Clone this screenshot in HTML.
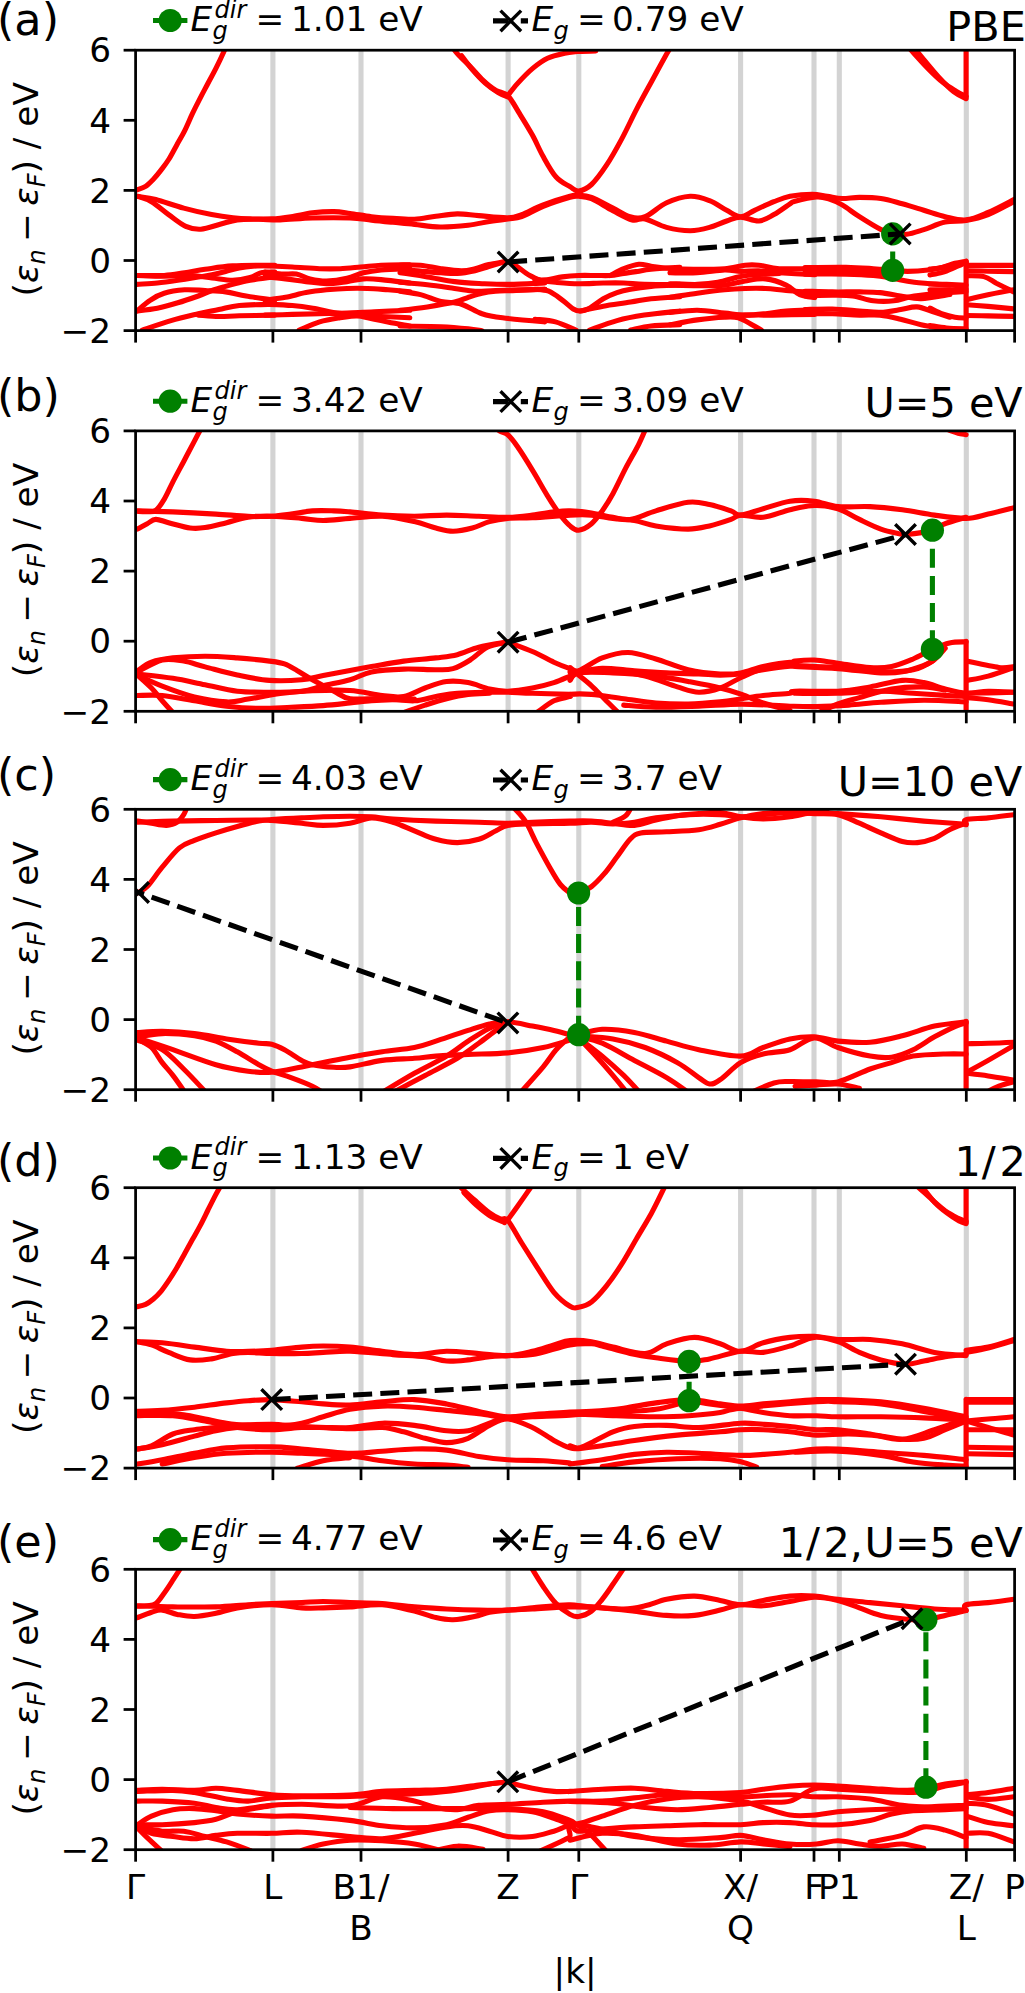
<!DOCTYPE html>
<html><head><meta charset="utf-8"><title>Band structures</title><style>html,body{margin:0;padding:0;background:#fff;overflow:hidden}svg{display:block}</style></head><body>
<svg width="1025" height="1993" viewBox="0 0 1025 1993">
<rect width="1025" height="1993" fill="#fff"/>
<clipPath id="c0"><rect x="135.6" y="50.2" width="879.0" height="280.4"/></clipPath>
<line x1="272.9" y1="50.2" x2="272.9" y2="330.6" stroke="#d3d3d3" stroke-width="5.1"/>
<line x1="361.0" y1="50.2" x2="361.0" y2="330.6" stroke="#d3d3d3" stroke-width="5.1"/>
<line x1="508.1" y1="50.2" x2="508.1" y2="330.6" stroke="#d3d3d3" stroke-width="5.1"/>
<line x1="578.8" y1="50.2" x2="578.8" y2="330.6" stroke="#d3d3d3" stroke-width="5.1"/>
<line x1="740.6" y1="50.2" x2="740.6" y2="330.6" stroke="#d3d3d3" stroke-width="5.1"/>
<line x1="814.0" y1="50.2" x2="814.0" y2="330.6" stroke="#d3d3d3" stroke-width="5.1"/>
<line x1="839.3" y1="50.2" x2="839.3" y2="330.6" stroke="#d3d3d3" stroke-width="5.1"/>
<line x1="966.3" y1="50.2" x2="966.3" y2="330.6" stroke="#d3d3d3" stroke-width="5.1"/>
<g clip-path="url(#c0)" fill="none" stroke="#ff0000" stroke-width="5.1" stroke-linejoin="round" stroke-linecap="round">
<path d="M136.2,190.2 C137.8,189.5 142.7,188.1 145.6,186.3 C148.5,184.5 150.8,181.9 153.4,179.2 C156.0,176.5 158.6,173.3 161.2,169.9 C163.8,166.5 166.4,163.2 169.0,159.0 C171.6,154.8 174.2,149.6 176.8,144.9 C179.4,140.2 182.0,136.1 184.6,130.9 C187.2,125.7 189.8,119.2 192.4,113.7 C195.0,108.2 197.6,103.2 200.2,98.1 C202.8,93.0 205.4,88.2 208.0,83.2 C210.6,78.2 213.3,73.6 215.9,68.4 C218.5,63.2 222.1,55.6 223.7,52.0 C225.3,48.4 225.2,47.8 225.5,47.0"/>
<path d="M450.9,45.0 C452.0,46.4 454.1,50.0 457.3,53.6 C460.5,57.2 465.9,62.0 470.2,66.5 C474.5,70.9 478.8,76.4 483.1,80.4 C487.4,84.4 491.8,88.0 496.0,90.5 C500.1,93.0 503.8,91.8 507.8,95.7 C511.7,99.5 515.5,107.1 519.6,113.7 C523.7,120.3 528.5,128.0 532.4,135.1 C536.4,142.3 539.2,149.6 543.2,156.6 C547.1,163.6 551.6,172.0 556.1,177.0 C560.5,182.0 566.2,184.3 570.0,186.7 C573.8,189.0 575.0,191.3 578.6,191.0 C582.2,190.6 586.8,188.8 591.5,184.5 C596.1,180.2 601.5,172.7 606.5,165.2 C611.5,157.7 616.5,148.7 621.5,139.4 C626.5,130.1 631.5,119.1 636.5,109.4 C641.5,99.7 646.9,90.1 651.6,81.5 C656.2,72.9 661.0,64.0 664.4,57.9 C667.8,51.8 670.7,47.1 672.0,45.0"/>
<path d="M507.8,95.7 C509.4,93.7 513.3,88.1 517.4,83.6 C521.5,79.1 527.4,72.8 532.4,68.6 C537.5,64.4 542.1,60.9 547.5,58.3 C552.8,55.7 559.6,54.3 564.6,53.2 C569.6,52.0 575.2,51.7 577.5,51.4 C579.8,51.2 575.5,51.5 578.6,51.4 C581.6,51.4 592.9,51.1 595.8,51.0"/>
<path d="M906.6,45.0 C908.0,46.6 911.6,50.7 915.2,54.7 C918.8,58.6 923.4,64.0 928.1,68.6 C932.7,73.3 938.4,78.8 943.1,82.6 C947.8,86.3 952.2,88.8 956.0,91.1 C959.8,93.5 964.4,95.6 966.1,96.5"/>
<path d="M966.1,96.5 L966.1,45.0"/>
<path d="M137.5,196.3 C140.6,196.9 148.1,197.6 155.8,199.5 C163.4,201.5 174.4,205.6 183.7,208.1 C193.0,210.6 203.3,213.0 211.6,214.6 C219.8,216.2 226.6,217.1 233.0,217.8 C239.5,218.5 243.8,218.7 250.2,218.9 C256.6,219.0 264.9,219.2 271.7,218.9 C278.5,218.5 284.2,217.7 291.0,216.7 C297.8,215.7 305.3,213.7 312.4,212.8 C319.6,212.0 327.6,211.5 333.9,211.6 C340.2,211.7 343.7,212.6 350.0,213.5 C356.3,214.3 364.3,215.9 371.5,216.7 C378.6,217.5 385.8,218.0 392.9,218.4 C400.1,218.9 407.2,219.6 414.4,219.3 C421.5,218.9 428.7,217.2 435.9,216.3 C443.0,215.4 450.2,214.0 457.3,213.9 C464.5,213.8 470.4,215.0 478.8,215.6 C487.2,216.3 500.6,218.0 507.8,217.8 C514.9,217.6 515.8,216.7 521.7,214.6 C527.6,212.4 535.1,207.9 543.2,204.9 C551.2,201.9 564.1,197.9 570.0,196.3 C575.9,194.7 575.0,195.1 578.6,195.2 C582.2,195.4 585.7,195.2 591.5,197.4 C597.2,199.5 606.5,204.9 612.9,208.1 C619.4,211.3 624.7,215.3 630.1,216.7 C635.5,218.1 639.0,219.0 645.1,216.7 C651.2,214.4 659.1,206.2 666.6,202.8 C674.1,199.4 683.0,196.7 690.2,196.3 C697.4,196.0 703.4,198.3 709.5,200.6 C715.6,202.9 721.5,207.6 726.7,210.3 C731.9,213.0 736.0,216.7 740.6,216.7 C745.3,216.7 749.0,212.8 754.6,210.3 C760.1,207.8 768.0,204.0 773.9,201.7 C779.8,199.4 783.6,197.6 790.0,196.3 C796.4,195.1 806.0,194.2 812.2,194.2 C818.4,194.2 822.2,195.6 827.2,196.3 C832.2,197.0 836.9,198.3 842.2,198.5 C847.6,198.6 853.0,197.4 859.4,197.4 C865.8,197.4 873.7,197.4 880.9,198.5 C888.0,199.5 895.2,201.9 902.3,203.8 C909.5,205.8 916.6,208.1 923.8,210.3 C930.9,212.4 938.2,215.1 945.2,216.7 C952.3,218.3 958.9,220.6 966.1,219.9 C973.2,219.2 980.2,215.8 988.2,212.4 C996.2,209.0 1009.6,201.7 1013.9,199.5"/>
<path d="M137.5,196.3 C139.8,197.2 146.3,198.6 151.5,201.7 C156.7,204.7 162.9,210.5 168.6,214.6 C174.4,218.7 180.4,223.9 185.8,226.4 C191.2,228.8 195.1,229.5 200.8,229.2 C206.6,228.8 214.1,225.8 220.1,224.2 C226.2,222.7 230.9,220.8 237.3,219.9 C243.8,219.1 251.6,219.3 258.8,219.3 C265.9,219.3 271.3,220.1 280.2,219.9 C289.2,219.7 300.8,218.3 312.4,218.0 C324.1,217.7 340.2,217.6 350.0,218.0 C359.8,218.4 364.3,219.4 371.5,220.1 C378.6,220.9 385.8,221.6 392.9,222.3 C400.1,223.0 406.5,223.7 414.4,224.4 C422.3,225.2 431.2,226.9 440.1,227.0 C449.1,227.2 459.8,226.2 468.1,225.3 C476.3,224.4 482.9,222.5 489.5,221.4 C496.1,220.4 502.4,219.6 507.8,218.9 C513.1,218.1 515.8,218.8 521.7,216.7 C527.6,214.6 535.1,209.6 543.2,206.4 C551.2,203.2 564.1,199.1 570.0,197.4 C575.9,195.7 575.0,196.1 578.6,196.3 C582.2,196.5 585.7,196.3 591.5,198.7 C597.2,201.1 606.1,207.2 612.9,210.7 C619.7,214.2 626.9,218.6 632.2,219.9 C637.6,221.3 639.4,217.6 645.1,218.9 C650.8,220.1 659.1,225.5 666.6,227.4 C674.1,229.4 683.0,230.7 690.2,230.7 C697.4,230.7 703.4,229.1 709.5,227.4 C715.6,225.8 721.5,222.7 726.7,221.0 C731.9,219.3 735.3,217.1 740.6,217.1 C746.0,217.1 753.3,221.4 758.9,221.0 C764.4,220.6 768.7,217.4 773.9,214.6 C779.1,211.7 786.5,206.1 790.0,203.8 C793.5,201.6 790.6,202.4 795.0,201.3 C799.4,200.1 810.7,197.3 816.5,197.0 C822.2,196.6 825.0,197.8 829.3,199.1 C833.6,200.4 837.2,202.0 842.2,204.9 C847.2,207.8 853.0,212.6 859.4,216.7 C865.8,220.8 875.3,226.7 880.9,229.6 C886.4,232.5 888.4,233.1 892.7,233.9 C897.0,234.7 901.4,235.0 906.6,234.3 C911.8,233.6 917.3,231.6 923.8,229.6 C930.2,227.5 938.2,223.6 945.2,222.1 C952.3,220.6 958.9,221.8 966.1,220.6 C973.2,219.3 980.2,217.7 988.2,214.6 C996.2,211.4 1009.6,203.8 1013.9,201.7"/>
<path d="M136.8,275.5 C141.4,275.5 156.2,275.9 164.2,275.5 C172.1,275.0 177.8,273.8 184.6,272.8 C191.5,271.7 197.2,270.5 205.1,269.3 C213.1,268.2 221.6,266.6 232.5,265.9 C243.3,265.2 263.0,265.3 270.0,265.2 C277.1,265.2 274.0,265.4 274.8,265.4"/>
<path d="M136.8,275.5 C141.4,275.6 155.0,276.2 164.2,276.2 C173.3,276.2 183.5,275.2 191.5,275.5 C199.4,275.8 205.1,277.2 212.0,278.0 C218.8,278.7 226.1,280.3 232.5,280.3 C238.8,280.2 245.4,278.8 250.2,277.5 C255.0,276.3 257.0,273.7 261.1,272.8 C265.2,271.8 272.5,272.2 274.8,272.1"/>
<path d="M136.8,284.4 C140.2,284.1 150.5,283.7 157.3,283.0 C164.2,282.3 171.0,281.3 177.8,280.3 C184.6,279.3 192.6,278.0 198.3,277.1 C204.0,276.2 207.4,275.8 212.0,274.8 C216.5,273.9 221.1,272.5 225.6,271.4 C230.2,270.3 234.7,268.8 239.3,268.0 C243.8,267.1 247.8,266.6 253.0,266.2 C258.1,265.8 267.2,265.7 270.0,265.7"/>
<path d="M136.8,311.0 C139.1,309.2 145.9,303.0 150.5,300.1 C155.0,297.1 158.5,295.0 164.2,293.3 C169.8,291.5 177.8,290.3 184.6,289.8 C191.5,289.4 198.3,290.2 205.1,290.5 C212.0,290.9 218.8,291.0 225.6,291.9 C232.5,292.8 237.9,294.6 246.1,296.0 C254.3,297.4 270.0,299.6 274.8,300.4"/>
<path d="M136.8,311.0 C140.2,310.6 150.5,309.6 157.3,308.3 C164.2,306.9 171.0,304.9 177.8,302.8 C184.6,300.8 192.6,298.0 198.3,296.0 C204.0,293.9 207.4,292.1 212.0,290.5 C216.5,288.9 219.9,288.0 225.6,286.4 C231.3,284.8 237.9,282.6 246.1,281.0 C254.3,279.4 270.0,277.5 274.8,276.9"/>
<path d="M142.3,330.1 C147.1,328.5 161.6,323.3 171.0,320.6 C180.3,317.8 190.3,315.6 198.3,313.7 C206.3,311.9 212.0,311.0 218.8,309.6 C225.6,308.3 230.0,306.5 239.3,305.5 C248.6,304.6 268.9,304.4 274.8,304.2"/>
<path d="M198.3,315.1 C201.7,315.3 212.0,316.4 218.8,316.5 C225.6,316.6 230.0,316.0 239.3,315.8 C248.6,315.6 268.9,315.2 274.8,315.1"/>
<path d="M265.0,265.7 C269.6,265.9 283.2,266.5 292.3,267.0 C301.4,267.5 311.7,268.4 319.6,268.7 C327.6,268.9 333.3,268.9 340.1,268.7 C347.0,268.4 353.8,267.6 360.6,267.0 C367.5,266.5 372.9,265.6 381.1,265.2 C389.3,264.9 405.0,264.9 409.8,264.8"/>
<path d="M265.0,272.1 C267.7,272.4 276.2,273.8 281.4,274.1 C286.6,274.5 291.6,273.3 296.4,274.1 C301.2,274.9 305.1,277.8 310.1,278.9 C315.1,280.0 320.3,281.1 326.5,281.0 C332.6,280.8 340.8,279.6 347.0,278.2 C353.1,276.9 357.7,274.1 363.4,272.8 C369.1,271.4 373.4,270.7 381.1,270.0 C388.9,269.3 405.0,268.9 409.8,268.7"/>
<path d="M265.0,276.9 C268.4,277.2 278.7,278.1 285.5,278.9 C292.3,279.7 299.2,280.8 306.0,281.6 C312.8,282.4 319.6,283.7 326.5,283.7 C333.3,283.7 340.8,282.4 347.0,281.6 C353.1,280.8 357.7,279.2 363.4,278.9 C369.1,278.6 373.4,278.9 381.1,279.6 C388.9,280.3 405.0,282.4 409.8,283.0"/>
<path d="M265.0,300.1 C268.4,299.6 278.7,298.6 285.5,297.3 C292.3,296.1 299.2,293.8 306.0,292.6 C312.8,291.3 319.6,290.5 326.5,289.8 C333.3,289.2 340.1,288.7 347.0,288.5 C353.8,288.2 360.6,288.2 367.5,288.5 C374.3,288.7 380.9,289.3 388.0,289.8 C395.0,290.4 406.2,291.5 409.8,291.9"/>
<path d="M265.0,304.2 C269.6,304.4 284.4,304.9 292.3,305.5 C300.3,306.2 306.0,307.1 312.8,308.3 C319.6,309.4 326.5,311.2 333.3,312.4 C340.1,313.5 347.0,314.0 353.8,315.1 C360.6,316.2 367.5,317.8 374.3,319.2 C381.1,320.6 388.9,322.2 394.8,323.3 C400.7,324.4 407.3,325.6 409.8,326.0"/>
<path d="M265.0,315.1 C269.6,315.0 283.2,314.7 292.3,314.4 C301.4,314.2 310.5,314.0 319.6,313.7 C328.8,313.5 337.9,313.4 347.0,313.1 C356.1,312.7 363.8,312.1 374.3,311.7 C384.8,311.2 403.9,310.6 409.8,310.3"/>
<path d="M299.2,330.1 C302.6,328.8 312.8,324.0 319.6,321.9 C326.5,319.9 333.3,318.9 340.1,317.8 C347.0,316.8 353.8,316.0 360.6,315.8 C367.5,315.6 372.9,316.1 381.1,316.5 C389.3,316.8 405.0,317.6 409.8,317.8"/>
<path d="M400.0,265.2 C403.4,265.2 413.7,264.7 420.5,265.2 C427.3,265.8 434.2,267.8 441.0,268.7 C447.8,269.6 455.8,270.7 461.5,270.7 C467.2,270.7 470.6,269.7 475.1,268.7 C479.7,267.6 484.0,265.7 488.8,264.6 C493.6,263.4 501.3,262.3 503.8,261.8"/>
<path d="M400.0,269.3 C403.4,269.6 413.7,270.6 420.5,271.1 C427.3,271.7 434.8,272.4 441.0,272.8 C447.1,273.1 451.7,273.8 457.4,273.4 C463.1,273.1 469.9,271.8 475.1,270.7 C480.4,269.6 484.0,268.0 488.8,266.6 C493.6,265.2 501.3,262.9 503.8,262.1"/>
<path d="M400.0,272.8 C404.6,273.4 418.2,275.4 427.3,276.9 C436.4,278.3 445.5,280.5 454.6,281.6 C463.8,282.8 472.9,283.2 482.0,283.7 C491.1,284.1 498.8,284.5 509.3,284.4 C519.8,284.3 538.9,283.2 544.8,283.0"/>
<path d="M400.0,282.3 C404.6,282.7 418.2,283.8 427.3,284.8 C436.4,285.8 446.7,287.4 454.6,288.5 C462.6,289.5 468.3,290.9 475.1,291.2 C482.0,291.5 484.0,290.9 495.6,290.5 C507.2,290.2 536.6,289.4 544.8,289.2"/>
<path d="M400.0,291.2 C403.4,291.8 413.7,292.9 420.5,294.6 C427.3,296.3 434.2,299.9 441.0,301.4 C447.8,303.0 454.6,302.1 461.5,304.2 C468.3,306.2 475.1,311.5 482.0,313.7 C488.8,316.0 492.0,316.5 502.5,317.8 C512.9,319.2 537.8,321.3 544.8,321.9"/>
<path d="M400.0,310.3 C404.6,309.8 418.2,308.3 427.3,306.9 C436.4,305.5 447.8,303.7 454.6,302.1 C461.5,300.5 463.8,298.8 468.3,297.3 C472.9,295.9 477.4,294.3 482.0,293.3 C486.5,292.2 489.9,291.7 495.6,291.2 C501.3,290.7 507.9,290.9 516.1,290.5 C524.3,290.2 540.0,289.4 544.8,289.2"/>
<path d="M400.0,326.0 C406.8,326.2 429.6,326.3 441.0,326.7 C452.4,327.2 461.5,328.1 468.3,328.8 C475.1,329.5 479.7,330.5 482.0,330.8"/>
<path d="M507.9,261.8 C509.3,262.5 512.5,263.7 516.1,265.9 C519.8,268.2 525.0,272.8 529.8,275.5 C534.6,278.2 542.3,281.2 544.8,282.3"/>
<path d="M535.0,278.9 C536.1,279.2 538.4,280.1 541.8,280.7 C545.2,281.3 549.3,281.8 555.5,282.3 C561.6,282.8 570.7,283.6 578.7,283.7 C586.7,283.8 595.8,283.1 603.3,283.0 C610.8,282.9 617.0,282.8 623.8,283.0 C630.6,283.2 635.0,284.1 644.3,284.4 C653.6,284.6 673.9,284.4 679.8,284.4"/>
<path d="M535.0,280.3 C537.3,280.2 544.1,280.2 548.7,279.6 C553.2,279.0 557.3,277.5 562.3,276.9 C567.3,276.2 573.0,275.7 578.7,275.5 C584.4,275.3 591.2,275.5 596.5,275.5 C601.7,275.5 605.6,275.8 610.1,275.5 C614.7,275.2 619.2,274.1 623.8,273.4 C628.4,272.8 632.9,272.1 637.5,271.4 C642.0,270.7 644.1,270.0 651.1,269.3 C658.2,268.7 675.0,267.6 679.8,267.3"/>
<path d="M535.0,289.2 C537.3,289.5 544.1,289.4 548.7,291.2 C553.2,293.0 558.2,297.1 562.3,300.1 C566.4,303.0 570.3,307.1 573.3,309.0 C576.2,310.8 577.3,311.1 580.1,311.0 C582.8,310.9 585.8,310.3 589.6,308.3 C593.5,306.2 598.8,301.3 603.3,298.7 C607.9,296.1 612.4,294.2 617.0,292.6 C621.5,291.0 624.9,290.2 630.6,289.2 C636.3,288.1 642.9,287.1 651.1,286.4 C659.3,285.7 675.0,285.3 679.8,285.1"/>
<path d="M580.1,311.0 C584.0,310.2 594.9,307.7 603.3,306.2 C611.7,304.7 622.7,303.4 630.6,302.1 C638.6,300.9 642.9,299.6 651.1,298.7 C659.3,297.8 675.0,297.0 679.8,296.7"/>
<path d="M535.0,319.2 C538.4,319.7 548.7,320.1 555.5,321.9 C562.3,323.8 572.6,328.8 576.0,330.1"/>
<path d="M589.6,330.1 C594.2,328.5 607.9,323.1 617.0,320.6 C626.1,318.1 633.8,316.7 644.3,315.1 C654.8,313.5 673.9,311.7 679.8,311.0"/>
<path d="M630.6,330.1 C634.0,329.5 642.9,326.9 651.1,326.0 C659.3,325.1 675.0,324.9 679.8,324.7"/>
<path d="M610.1,275.5 C612.4,274.4 619.0,270.5 623.8,268.7 C628.6,266.8 634.3,264.7 638.8,264.3 C643.4,263.9 646.8,265.6 651.1,266.2 C655.4,266.8 660.0,267.6 664.8,268.0 C669.6,268.4 677.3,268.5 679.8,268.7"/>
<path d="M670.0,268.7 C674.6,268.8 688.2,269.3 697.3,269.3 C706.4,269.3 716.7,269.3 724.6,268.7 C732.6,268.0 739.4,265.8 745.1,265.2 C750.8,264.7 753.1,264.7 758.8,265.2 C764.5,265.8 770.0,268.1 779.3,268.7 C788.6,269.2 808.9,268.7 814.8,268.7"/>
<path d="M670.0,272.8 C674.6,272.8 688.2,273.2 697.3,272.8 C706.4,272.3 717.4,270.3 724.6,270.0 C731.9,269.8 735.3,271.3 741.0,271.4 C746.7,271.5 752.4,270.5 758.8,270.7 C765.2,270.9 770.0,272.1 779.3,272.8 C788.6,273.4 808.9,274.5 814.8,274.8"/>
<path d="M670.0,283.7 C674.6,283.8 689.4,284.6 697.3,284.4 C705.3,284.1 711.0,283.6 717.8,282.3 C724.6,281.1 732.6,278.1 738.3,276.9 C744.0,275.6 747.4,275.3 752.0,274.8 C756.5,274.4 761.1,274.4 765.6,274.1 C770.2,273.9 777.0,273.6 779.3,273.4"/>
<path d="M670.0,285.1 C674.6,285.2 688.2,285.7 697.3,285.7 C706.4,285.7 716.7,285.9 724.6,285.1 C732.6,284.3 738.3,282.0 745.1,281.0 C752.0,279.9 758.8,278.2 765.6,278.9 C772.5,279.6 780.4,282.4 786.1,285.1 C791.8,287.7 795.0,292.5 799.8,294.6 C804.6,296.7 812.3,297.1 814.8,297.6"/>
<path d="M670.0,297.3 C674.6,296.7 688.2,294.5 697.3,293.3 C706.4,292.0 716.7,290.6 724.6,289.8 C732.6,289.0 738.3,288.7 745.1,288.5 C752.0,288.2 758.8,288.1 765.6,288.5 C772.5,288.8 777.9,289.8 786.1,290.5 C794.3,291.2 810.0,292.2 814.8,292.6"/>
<path d="M670.0,312.4 C674.6,312.0 688.2,310.2 697.3,310.3 C706.4,310.4 716.7,312.3 724.6,313.1 C732.6,313.9 738.3,315.0 745.1,315.1 C752.0,315.2 758.8,314.4 765.6,313.7 C772.5,313.1 777.9,311.6 786.1,311.0 C794.3,310.4 810.0,310.1 814.8,309.9"/>
<path d="M670.0,324.7 C674.6,323.9 688.2,321.1 697.3,319.9 C706.4,318.6 717.8,317.5 724.6,317.2 C731.5,316.8 733.8,316.6 738.3,317.8 C742.9,319.1 748.1,322.6 752.0,324.7 C755.8,326.7 759.9,329.2 761.5,330.1"/>
<path d="M724.6,316.5 C728.1,316.2 737.2,315.3 745.1,315.1 C753.1,314.9 760.8,315.2 772.5,315.1 C784.1,315.0 807.8,314.5 814.8,314.4"/>
<path d="M805.0,267.6 C811.8,267.5 834.6,267.1 846.0,267.3 C857.4,267.5 865.6,268.2 873.3,268.7 C881.0,269.1 886.7,269.6 892.4,270.0 C898.1,270.5 901.5,271.4 907.5,271.4 C913.4,271.4 920.9,271.0 928.0,270.0 C935.0,269.1 946.2,266.4 949.8,265.7"/>
<path d="M805.0,270.3 C811.8,270.4 834.6,270.5 846.0,270.7 C857.4,270.9 865.6,271.3 873.3,271.4 C881.0,271.5 889.2,271.4 892.4,271.4"/>
<path d="M805.0,274.1 C811.8,274.1 834.6,273.9 846.0,274.1 C857.4,274.4 865.6,274.8 873.3,275.5 C881.0,276.2 885.6,277.1 892.4,278.2 C899.3,279.4 904.7,281.1 914.3,282.3 C923.9,283.5 943.9,284.8 949.8,285.3"/>
<path d="M805.0,291.2 C809.6,291.3 823.2,291.8 832.3,291.9 C841.4,292.0 851.7,291.8 859.6,291.9 C867.6,292.0 873.3,291.9 880.1,292.6 C887.0,293.3 893.8,295.0 900.6,296.0 C907.5,297.0 912.9,298.9 921.1,298.7 C929.3,298.5 945.0,295.3 949.8,294.6"/>
<path d="M805.0,296.0 C809.6,295.9 824.4,295.3 832.3,295.3 C840.3,295.3 846.0,295.1 852.8,296.0 C859.6,296.9 866.5,300.0 873.3,300.8 C880.1,301.6 887.0,301.6 893.8,300.8 C900.6,300.0 905.0,297.5 914.3,296.0 C923.6,294.5 943.9,292.6 949.8,291.9"/>
<path d="M805.0,309.6 C809.6,309.5 823.2,308.7 832.3,309.0 C841.4,309.2 851.7,310.4 859.6,311.0 C867.6,311.6 873.3,312.6 880.1,312.4 C887.0,312.1 894.5,310.6 900.6,309.6 C906.8,308.7 911.3,306.5 917.0,306.9 C922.7,307.4 929.3,310.7 934.8,312.4 C940.2,314.1 947.3,316.4 949.8,317.2"/>
<path d="M805.0,313.7 C809.6,313.7 823.2,313.5 832.3,313.7 C841.4,314.0 851.7,314.9 859.6,315.1 C867.6,315.3 873.3,314.4 880.1,315.1 C887.0,315.8 893.8,317.6 900.6,319.2 C907.5,320.8 912.9,322.9 921.1,324.7 C929.3,326.5 945.0,329.2 949.8,330.1"/>
<path d="M930.0,269.1 C932.1,268.8 938.3,268.4 942.4,267.4 C946.6,266.5 950.9,264.3 954.9,263.3 C958.8,262.3 964.2,261.6 966.1,261.2"/>
<path d="M930.0,274.9 C932.1,274.5 938.3,273.7 942.4,272.4 C946.6,271.2 950.9,269.1 954.9,267.4 C958.8,265.8 964.2,263.3 966.1,262.5"/>
<path d="M930.0,284.0 C932.8,284.1 940.6,284.2 946.6,284.4 C952.6,284.6 962.8,285.1 966.1,285.3"/>
<path d="M930.0,289.8 C932.8,289.8 940.6,290.0 946.6,289.8 C952.6,289.7 962.8,289.1 966.1,289.0"/>
<path d="M930.0,294.0 C932.8,293.8 940.6,293.1 946.6,292.7 C952.6,292.3 962.8,291.7 966.1,291.5"/>
<path d="M930.0,308.1 C932.1,309.0 938.3,312.4 942.4,313.9 C946.6,315.4 950.9,316.5 954.9,317.2 C958.8,317.9 964.2,317.9 966.1,318.0"/>
<path d="M930.0,325.5 C932.8,325.9 940.6,327.4 946.6,328.0 C952.6,328.5 962.8,328.7 966.1,328.8"/>
<path d="M966.1,261.2 L966.1,331.3"/>
<path d="M966.5,265.4 L1013.7,265.4"/>
<path d="M966.5,270.8 C970.1,270.8 980.2,271.0 988.0,271.2 C995.9,271.3 1009.5,271.5 1013.7,271.6"/>
<path d="M966.5,275.7 C969.4,275.9 978.9,275.3 983.9,276.6 C988.9,277.8 991.4,280.6 996.3,283.2 C1001.3,285.7 1010.8,290.4 1013.7,291.9"/>
<path d="M966.5,299.8 C970.1,298.9 982.4,296.0 988.0,294.8 C993.7,293.6 996.2,293.1 1000.5,292.3 C1004.8,291.5 1011.5,290.2 1013.7,289.8"/>
<path d="M966.5,304.8 C970.1,305.0 980.2,305.7 988.0,306.4 C995.9,307.1 1009.5,308.5 1013.7,308.9"/>
<path d="M966.5,315.5 C970.1,315.6 980.2,315.8 988.0,315.9 C995.9,316.1 1009.5,316.3 1013.7,316.4"/>
<path d="M461.6,55.7 C463.4,58.1 468.4,65.1 472.3,69.7 C476.3,74.3 480.9,79.4 485.2,83.2 C489.5,87.0 494.3,90.4 498.1,92.6 C501.9,94.9 506.1,96.2 507.8,96.9"/>
<path d="M912.0,45.0 C913.9,47.4 919.3,54.2 923.8,59.6 C928.3,65.0 933.8,71.8 938.8,77.2 C943.8,82.6 949.3,88.2 953.8,91.8 C958.4,95.4 964.0,97.5 966.1,98.7"/>
</g>
<g clip-path="url(#c0)">
<line x1="892.7" y1="270.4" x2="892.7" y2="233.9" stroke="#008000" stroke-width="5.1" stroke-dasharray="19,8.2"/>
<circle cx="892.7" cy="233.9" r="11.6" fill="#008000"/>
<circle cx="892.7" cy="270.4" r="11.6" fill="#008000"/>
<line x1="508.1" y1="262.0" x2="900.2" y2="233.9" stroke="#000" stroke-width="5.1" stroke-dasharray="19,8.2" stroke-dashoffset="0.0"/>
<path d="M497.8,251.7 L518.4,272.3 M497.8,272.3 L518.4,251.7" stroke="#000" stroke-width="3.4"/>
<path d="M889.9,223.6 L910.5,244.2 M889.9,244.2 L910.5,223.6" stroke="#000" stroke-width="3.4"/>
</g>
<rect x="135.6" y="50.2" width="879.0" height="280.4" fill="none" stroke="#000" stroke-width="2.75"/>
<line x1="123.6" y1="50.2" x2="135.6" y2="50.2" stroke="#000" stroke-width="2.75"/>
<text x="111" y="62.4" font-size="34.3" text-anchor="end" font-family="'DejaVu Sans','Liberation Sans',sans-serif">6</text>
<line x1="123.6" y1="120.3" x2="135.6" y2="120.3" stroke="#000" stroke-width="2.75"/>
<text x="111" y="132.5" font-size="34.3" text-anchor="end" font-family="'DejaVu Sans','Liberation Sans',sans-serif">4</text>
<line x1="123.6" y1="190.4" x2="135.6" y2="190.4" stroke="#000" stroke-width="2.75"/>
<text x="111" y="202.6" font-size="34.3" text-anchor="end" font-family="'DejaVu Sans','Liberation Sans',sans-serif">2</text>
<line x1="123.6" y1="260.5" x2="135.6" y2="260.5" stroke="#000" stroke-width="2.75"/>
<text x="111" y="272.7" font-size="34.3" text-anchor="end" font-family="'DejaVu Sans','Liberation Sans',sans-serif">0</text>
<line x1="123.6" y1="330.6" x2="135.6" y2="330.6" stroke="#000" stroke-width="2.75"/>
<text x="111" y="342.8" font-size="34.3" text-anchor="end" font-family="'DejaVu Sans','Liberation Sans',sans-serif">−2</text>
<line x1="135.6" y1="330.6" x2="135.6" y2="342.6" stroke="#000" stroke-width="2.75"/>
<line x1="272.9" y1="330.6" x2="272.9" y2="342.6" stroke="#000" stroke-width="2.75"/>
<line x1="361.0" y1="330.6" x2="361.0" y2="342.6" stroke="#000" stroke-width="2.75"/>
<line x1="508.1" y1="330.6" x2="508.1" y2="342.6" stroke="#000" stroke-width="2.75"/>
<line x1="578.8" y1="330.6" x2="578.8" y2="342.6" stroke="#000" stroke-width="2.75"/>
<line x1="740.6" y1="330.6" x2="740.6" y2="342.6" stroke="#000" stroke-width="2.75"/>
<line x1="814.0" y1="330.6" x2="814.0" y2="342.6" stroke="#000" stroke-width="2.75"/>
<line x1="839.3" y1="330.6" x2="839.3" y2="342.6" stroke="#000" stroke-width="2.75"/>
<line x1="966.3" y1="330.6" x2="966.3" y2="342.6" stroke="#000" stroke-width="2.75"/>
<line x1="1014.6" y1="330.6" x2="1014.6" y2="342.6" stroke="#000" stroke-width="2.75"/>
<text x="-3.0" y="35.2" font-size="44.5" font-family="'DejaVu Sans','Liberation Sans',sans-serif">(a)</text>
<text x="1025.8" y="40.9" font-size="41.4" text-anchor="end" font-family="'DejaVu Sans','Liberation Sans',sans-serif">PBE</text>
<line x1="153" y1="20.5" x2="187.4" y2="20.5" stroke="#008000" stroke-width="5.1"/>
<circle cx="170.2" cy="20.5" r="11.6" fill="#008000"/>
<text y="31.3" font-size="34.3" font-family="'DejaVu Sans','Liberation Sans',sans-serif"><tspan x="190.5" font-style="italic">E</tspan></text>
<text x="214.5" y="17.9" font-size="24" font-style="italic" font-family="'DejaVu Sans','Liberation Sans',sans-serif">dir</text>
<text x="212.5" y="38.8" font-size="24" font-style="italic" font-family="'DejaVu Sans','Liberation Sans',sans-serif">g</text>
<text x="255.5" y="31.3" font-size="34.3" font-family="'DejaVu Sans','Liberation Sans',sans-serif">=</text>
<text x="291" y="31.3" font-size="34.3" font-family="'DejaVu Sans','Liberation Sans',sans-serif">1.01 eV</text>
<line x1="493" y1="20.9" x2="528" y2="20.9" stroke="#000" stroke-width="5.1" stroke-dasharray="15.3,12.5"/>
<path d="M500.5,10.6 L521.1,31.2 M500.5,31.2 L521.1,10.6" stroke="#000" stroke-width="3.4"/>
<text x="531.5" y="31.3" font-size="34.3" font-style="italic" font-family="'DejaVu Sans','Liberation Sans',sans-serif">E</text>
<text x="553.5" y="38.8" font-size="24" font-style="italic" font-family="'DejaVu Sans','Liberation Sans',sans-serif">g</text>
<text x="577" y="31.3" font-size="34.3" font-family="'DejaVu Sans','Liberation Sans',sans-serif">=</text>
<text x="612" y="31.3" font-size="34.3" font-family="'DejaVu Sans','Liberation Sans',sans-serif">0.79 eV</text>
<text transform="translate(37.8,189.3) rotate(-90)" text-anchor="middle" font-size="34.3" font-family="'DejaVu Sans','Liberation Sans',sans-serif">(<tspan font-style="italic">ε</tspan><tspan font-size="24" font-style="italic" dy="7">n</tspan><tspan dy="-7" dx="7.4">−</tspan><tspan dx="7.4" font-style="italic">ε</tspan><tspan font-size="24" font-style="italic" dy="7">F</tspan><tspan dy="-7">) / eV</tspan></text>
<clipPath id="c1"><rect x="135.6" y="430.9" width="879.0" height="280.4"/></clipPath>
<line x1="272.9" y1="430.9" x2="272.9" y2="711.3" stroke="#d3d3d3" stroke-width="5.1"/>
<line x1="361.0" y1="430.9" x2="361.0" y2="711.3" stroke="#d3d3d3" stroke-width="5.1"/>
<line x1="508.1" y1="430.9" x2="508.1" y2="711.3" stroke="#d3d3d3" stroke-width="5.1"/>
<line x1="578.8" y1="430.9" x2="578.8" y2="711.3" stroke="#d3d3d3" stroke-width="5.1"/>
<line x1="740.6" y1="430.9" x2="740.6" y2="711.3" stroke="#d3d3d3" stroke-width="5.1"/>
<line x1="814.0" y1="430.9" x2="814.0" y2="711.3" stroke="#d3d3d3" stroke-width="5.1"/>
<line x1="839.3" y1="430.9" x2="839.3" y2="711.3" stroke="#d3d3d3" stroke-width="5.1"/>
<line x1="966.3" y1="430.9" x2="966.3" y2="711.3" stroke="#d3d3d3" stroke-width="5.1"/>
<g clip-path="url(#c1)" fill="none" stroke="#ff0000" stroke-width="5.1" stroke-linejoin="round" stroke-linecap="round">
<path d="M137.5,511.3 C139.1,511.4 144.1,511.9 147.2,511.7 C150.2,511.6 152.9,512.5 155.8,510.4 C158.6,508.3 161.5,503.8 164.3,499.1 C167.2,494.3 169.7,488.1 172.9,481.9 C176.1,475.6 180.1,468.3 183.7,461.5 C187.2,454.7 191.2,447.2 194.4,441.1 C197.6,435.0 201.5,427.7 203.0,425.0"/>
<path d="M137.5,510.9 C143.4,511.0 159.9,511.4 172.9,511.9 C186.0,512.5 203.3,513.4 215.9,514.1 C228.4,514.8 238.8,515.9 248.1,516.2 C257.4,516.6 264.5,516.6 271.7,516.2 C278.8,515.9 284.2,515.0 291.0,514.1 C297.8,513.2 305.3,511.4 312.4,510.9 C319.6,510.3 327.6,510.7 333.9,510.9 C340.2,511.0 342.0,511.2 350.0,511.9 C358.1,512.6 371.5,514.4 382.2,515.1 C392.9,515.9 403.7,516.2 414.4,516.2 C425.1,516.2 435.9,515.1 446.6,515.1 C457.3,515.1 468.6,515.9 478.8,516.2 C489.0,516.6 498.8,517.5 507.8,517.3 C516.7,517.1 524.8,516.0 532.4,515.1 C540.1,514.3 547.6,512.6 553.9,511.9 C560.2,511.2 563.7,510.7 570.0,510.9 C576.3,511.0 584.3,511.9 591.5,513.0 C598.6,514.1 606.5,516.2 612.9,517.3 C619.4,518.4 622.9,520.5 630.1,519.4 C637.3,518.4 646.2,513.7 655.9,510.9 C665.5,508.0 679.1,503.3 688.1,502.3 C697.0,501.2 702.4,503.0 709.5,504.4 C716.7,505.8 725.8,509.1 731.0,510.9 C736.2,512.6 735.3,515.5 740.6,515.1 C746.0,514.8 754.9,511.0 763.2,508.7 C771.4,506.4 781.5,502.4 790.0,501.2 C798.5,499.9 806.3,500.3 814.3,501.2 C822.3,502.1 828.6,505.7 837.9,506.6 C847.2,507.5 859.4,506.0 870.1,506.6 C880.9,507.1 891.6,508.4 902.3,509.8 C913.1,511.2 923.9,513.7 934.5,515.1 C945.1,516.6 957.1,518.5 966.1,518.4 C975.0,518.2 980.2,515.9 988.2,514.1 C996.2,512.3 1009.6,508.7 1013.9,507.6"/>
<path d="M137.5,529.1 C139.1,528.2 144.1,525.3 147.2,523.7 C150.2,522.1 152.2,519.6 155.8,519.4 C159.3,519.3 162.9,521.2 168.6,522.7 C174.4,524.1 184.0,527.2 190.1,528.0 C196.2,528.8 199.0,528.5 205.1,527.6 C211.2,526.7 219.4,524.4 226.6,522.7 C233.7,520.9 240.5,518.4 248.1,517.3 C255.6,516.2 262.7,516.0 271.7,516.2 C280.6,516.4 293.1,517.7 301.7,518.4 C310.3,519.1 315.1,520.5 323.2,520.5 C331.2,520.5 340.2,519.1 350.0,518.4 C359.8,517.7 371.5,515.7 382.2,516.2 C392.9,516.8 405.4,519.6 414.4,521.6 C423.3,523.6 429.4,526.4 435.9,528.0 C442.3,529.6 446.9,531.2 453.0,531.2 C459.1,531.2 466.3,529.6 472.3,528.0 C478.4,526.4 483.6,523.2 489.5,521.6 C495.4,520.0 500.6,519.0 507.8,518.4 C514.9,517.7 522.1,518.3 532.4,517.7 C542.8,517.2 560.2,515.6 570.0,515.1 C579.8,514.7 584.3,514.6 591.5,515.1 C598.6,515.7 605.8,517.5 612.9,518.4 C620.1,519.3 627.2,519.3 634.4,520.5 C641.5,521.8 646.9,524.4 655.9,525.9 C664.8,527.3 679.1,529.1 688.1,529.1 C697.0,529.1 702.4,527.5 709.5,525.9 C716.7,524.3 725.8,521.2 731.0,519.4 C736.2,517.7 735.3,515.5 740.6,515.1 C746.0,514.8 754.9,518.2 763.2,517.3 C771.4,516.4 781.5,511.7 790.0,509.8 C798.5,507.8 806.3,505.7 814.3,505.5 C822.3,505.3 830.4,506.4 837.9,508.7 C845.4,511.0 852.2,516.0 859.4,519.4 C866.5,522.8 874.4,526.8 880.9,529.1 C887.3,531.4 893.7,532.5 898.0,533.4 C902.3,534.3 900.9,535.0 906.6,534.5 C912.3,533.9 925.9,532.0 932.4,530.2 C938.8,528.4 939.6,525.9 945.2,523.7 C950.9,521.6 962.6,518.4 966.1,517.3"/>
<path d="M491.7,425.0 C493.1,426.1 497.6,429.8 500.2,431.4 C502.9,433.0 504.9,432.2 507.8,434.7 C510.6,437.2 513.3,440.6 517.4,446.5 C521.5,452.4 527.4,461.8 532.4,470.1 C537.5,478.3 542.8,488.3 547.5,495.8 C552.1,503.3 556.6,510.1 560.3,515.1 C564.1,520.2 567.0,523.4 570.0,525.9 C573.0,528.4 575.0,530.5 578.6,530.2 C582.2,529.8 587.5,527.0 591.5,523.7 C595.4,520.5 598.6,515.9 602.2,510.9 C605.8,505.8 609.0,500.8 612.9,493.7 C616.9,486.5 621.5,476.2 625.8,467.9 C630.1,459.7 635.1,451.5 638.7,444.3 C642.3,437.2 645.8,428.2 647.3,425.0"/>
<path d="M949.5,430.4 C951.0,430.8 955.4,432.4 958.1,433.2 C960.9,433.9 964.7,434.4 966.1,434.7"/>
<path d="M137.5,670.8 C139.8,669.4 145.6,664.3 151.5,662.2 C157.4,660.0 164.0,658.9 172.9,657.9 C181.9,656.9 194.4,656.2 205.1,656.2 C215.9,656.2 226.6,657.1 237.3,657.9 C248.1,658.7 261.6,660.1 269.5,661.1 C277.4,662.1 279.9,662.3 284.5,663.9 C289.2,665.5 292.8,668.1 297.4,670.8 C302.1,673.4 306.4,676.4 312.4,679.8 C318.5,683.2 327.6,688.0 333.9,691.2 C340.2,694.3 342.0,697.4 350.0,698.7 C358.1,699.9 371.5,698.3 382.2,698.7 C392.9,699.0 405.4,701.2 414.4,700.8 C423.3,700.5 428.7,697.8 435.9,696.5 C443.0,695.3 448.4,694.0 457.3,693.3 C466.3,692.6 481.1,692.4 489.5,692.2 C497.9,692.1 500.6,692.1 507.8,692.2 C514.9,692.4 522.1,693.0 532.4,693.3 C542.8,693.7 563.7,694.2 570.0,694.4"/>
<path d="M137.5,671.9 C141.6,669.9 154.5,661.8 162.2,660.0 C169.9,658.3 176.5,660.0 183.7,661.1 C190.8,662.3 196.2,664.6 205.1,666.9 C214.1,669.2 226.6,672.8 237.3,675.1 C248.1,677.3 258.8,679.7 269.5,680.4 C280.2,681.2 292.8,680.6 301.7,679.8 C310.7,679.0 315.1,677.1 323.2,675.5 C331.2,673.9 342.0,671.9 350.0,670.4 C358.1,668.8 362.5,668.0 371.5,666.5 C380.4,665.0 392.9,662.6 403.7,661.1 C414.4,659.7 426.9,659.0 435.9,657.9 C444.8,656.8 450.2,656.5 457.3,654.7 C464.5,652.9 470.4,649.3 478.8,647.2 C487.2,645.0 502.9,642.7 507.8,641.8"/>
<path d="M137.5,674.0 C143.4,674.7 161.7,676.5 172.9,678.3 C184.2,680.1 194.4,682.6 205.1,684.7 C215.9,686.9 226.6,689.9 237.3,691.2 C248.1,692.4 258.8,692.2 269.5,692.2 C280.2,692.2 292.8,692.2 301.7,691.2 C310.7,690.1 315.1,687.7 323.2,685.8 C331.2,683.9 342.0,682.1 350.0,679.8 C358.1,677.5 362.5,673.6 371.5,671.9 C380.4,670.1 392.9,669.4 403.7,669.1 C414.4,668.7 427.6,669.8 435.9,669.7 C444.1,669.6 447.3,670.2 453.0,668.6 C458.8,667.0 464.5,663.6 470.2,660.0 C475.9,656.5 481.1,650.1 487.4,647.2 C493.6,644.2 504.4,643.1 507.8,642.2"/>
<path d="M137.5,675.1 C141.6,676.9 152.7,682.6 162.2,686.2 C171.7,689.9 183.7,694.4 194.4,697.0 C205.1,699.6 217.6,701.5 226.6,701.9 C235.5,702.3 239.1,700.5 248.1,699.1 C257.0,697.7 269.5,694.9 280.2,693.5 C291.0,692.1 300.8,691.2 312.4,690.7 C324.1,690.2 338.4,689.7 350.0,690.5 C361.6,691.3 373.3,694.5 382.2,695.5 C391.1,696.5 396.5,697.8 403.7,696.5 C410.8,695.3 418.0,690.5 425.1,688.0 C432.3,685.4 439.4,682.4 446.6,681.5 C453.7,680.6 460.9,681.3 468.1,682.6 C475.2,683.8 482.9,687.6 489.5,689.0 C496.1,690.5 500.6,691.4 507.8,691.2 C514.9,691.0 524.8,689.4 532.4,688.0 C540.1,686.5 547.6,684.6 553.9,682.6 C560.2,680.6 565.9,677.8 570.0,676.1 C574.1,674.5 571.4,673.8 578.6,672.9 C585.7,672.0 601.8,670.2 612.9,670.8 C624.0,671.3 634.4,673.5 645.1,676.1 C655.9,678.8 668.4,684.2 677.3,686.9 C686.3,689.6 691.6,692.1 698.8,692.2 C705.9,692.4 713.1,690.5 720.2,688.0 C727.4,685.4 734.6,680.4 741.7,677.2 C748.9,674.0 755.1,671.0 763.2,668.6 C771.2,666.3 784.7,664.5 790.0,663.3 C795.3,662.0 790.9,661.6 795.0,661.1 C799.1,660.6 807.2,659.7 814.3,660.0 C821.5,660.4 828.6,662.0 837.9,663.2 C847.2,664.5 861.2,667.0 870.1,667.5 C879.1,668.1 884.4,667.9 891.6,666.5 C898.7,665.0 906.3,661.8 913.1,659.0 C919.8,656.1 926.3,652.0 932.4,649.3 C938.4,646.6 943.9,644.1 949.5,642.9 C955.2,641.6 963.3,642.0 966.1,641.8"/>
<path d="M137.5,675.1 C139.8,677.2 147.3,683.7 151.5,688.0 C155.6,692.2 158.6,696.7 162.2,700.8 C165.8,704.9 171.1,710.7 172.9,712.6"/>
<path d="M137.5,695.5 C141.6,695.5 152.7,694.6 162.2,695.5 C171.7,696.4 183.7,699.0 194.4,700.8 C205.1,702.6 215.9,704.9 226.6,706.2 C237.3,707.4 248.1,708.2 258.8,708.3 C269.5,708.5 280.2,707.7 291.0,707.3 C301.7,706.8 313.3,706.3 323.2,705.6 C333.0,704.8 342.0,703.8 350.0,703.0 C358.1,702.2 364.3,701.4 371.5,700.8 C378.6,700.3 385.8,700.0 392.9,699.8 C400.1,699.5 410.8,699.2 414.4,699.1"/>
<path d="M403.7,712.6 C407.2,711.4 418.0,707.4 425.1,705.1 C432.3,702.8 439.4,700.5 446.6,698.7 C453.7,696.9 460.9,695.3 468.1,694.4 C475.2,693.5 485.9,693.5 489.5,693.3"/>
<path d="M507.8,642.2 C511.9,643.8 524.8,648.1 532.4,651.5 C540.1,654.8 547.6,659.3 553.9,662.2 C560.2,665.1 567.3,667.7 570.0,668.6 C572.7,669.5 568.6,667.2 570.0,667.6 C571.4,667.9 573.2,672.4 578.6,670.8 C584.0,669.2 594.0,660.9 602.2,657.9 C610.4,654.9 619.0,652.4 628.0,652.5 C636.9,652.7 645.8,656.1 655.9,659.0 C665.9,661.8 677.3,667.2 688.1,669.7 C698.8,672.2 711.5,673.5 720.2,674.0 C729.0,674.5 733.5,674.2 740.6,672.9 C747.8,671.7 754.9,668.3 763.2,666.5 C771.4,664.7 784.7,662.4 790.0,662.2 C795.3,662.0 787.0,664.5 795.0,665.4 C803.0,666.3 823.6,666.5 837.9,667.5 C852.2,668.6 868.3,671.5 880.9,671.8 C893.4,672.2 904.5,671.5 913.1,669.7 C921.6,667.9 927.0,664.7 932.4,661.1 C937.7,657.5 943.1,650.4 945.2,648.2"/>
<path d="M536.7,712.6 C539.6,710.7 548.4,703.5 553.9,700.8 C559.5,698.1 567.3,697.6 570.0,696.5 C572.7,695.5 566.4,694.7 570.0,694.4 C573.6,694.0 582.5,693.7 591.5,694.4 C600.4,695.1 612.9,697.3 623.7,698.7 C634.4,700.1 645.1,702.1 655.9,703.0 C666.6,703.9 677.3,704.2 688.1,704.1 C698.8,703.9 711.3,702.8 720.2,701.9 C729.2,701.0 734.6,699.8 741.7,698.7 C748.9,697.6 755.1,696.4 763.2,695.5 C771.2,694.6 784.7,694.0 790.0,693.3 C795.3,692.6 787.0,691.5 795.0,691.2 C803.0,690.8 825.4,691.9 837.9,691.2 C850.4,690.4 859.4,688.6 870.1,686.9 C880.9,685.1 893.4,681.1 902.3,680.4 C911.3,679.7 916.6,681.1 923.8,682.6 C930.9,684.0 938.2,687.2 945.2,689.0 C952.3,690.8 958.9,692.9 966.1,693.3 C973.2,693.7 980.2,691.3 988.2,691.2 C996.2,691.0 1009.6,692.0 1013.9,692.2"/>
<path d="M570.0,671.9 C571.4,671.9 573.2,672.5 578.6,671.9 C584.0,671.2 592.9,668.4 602.2,668.2 C611.5,668.0 623.7,670.0 634.4,670.8 C645.1,671.6 655.9,672.4 666.6,672.9 C677.3,673.5 689.8,673.6 698.8,674.0 C707.7,674.4 713.3,675.1 720.2,675.1 C727.2,675.1 733.5,674.9 740.6,674.0 C747.8,673.1 754.9,671.0 763.2,669.7 C771.4,668.4 784.7,666.6 790.0,666.1 C795.3,665.5 787.0,666.0 795.0,666.5 C803.0,666.9 823.6,667.5 837.9,668.6 C852.2,669.7 870.1,672.4 880.9,672.9 C891.6,673.4 895.2,673.1 902.3,671.8 C909.5,670.6 918.8,667.2 923.8,665.4 C928.8,663.6 930.9,661.8 932.4,661.1"/>
<path d="M570.0,680.4 C571.4,679.2 571.4,674.2 578.6,672.9 C585.7,671.7 600.0,672.4 612.9,672.9 C625.8,673.5 643.3,674.7 655.9,676.1 C668.4,677.6 677.3,679.5 688.1,681.5 C698.8,683.5 711.3,685.8 720.2,688.0 C729.2,690.1 734.6,691.9 741.7,694.4 C748.9,696.9 755.1,700.3 763.2,703.0 C771.2,705.7 785.5,709.2 790.0,710.5"/>
<path d="M578.6,675.1 C580.7,676.9 587.2,681.9 591.5,685.8 C595.8,689.7 600.0,694.4 604.3,698.7 C608.6,703.0 615.1,709.4 617.2,711.6"/>
<path d="M623.7,705.1 C629.0,705.5 643.3,707.1 655.9,707.3 C668.4,707.4 684.5,706.7 698.8,706.2 C713.1,705.7 726.5,704.1 741.7,704.1 C756.9,704.1 777.5,705.8 790.0,706.2 C802.5,706.6 806.7,706.8 816.5,706.6 C826.2,706.4 837.9,705.8 848.7,705.1 C859.4,704.4 868.3,703.1 880.9,702.3 C893.4,701.5 909.6,700.2 923.8,700.2 C938.0,700.1 959.0,701.6 966.1,701.9"/>
<path d="M795.0,693.3 C802.2,693.3 823.6,693.7 837.9,693.3 C852.2,692.9 868.3,691.2 880.9,691.2 C893.4,691.2 902.3,692.6 913.1,693.3 C923.8,694.0 936.4,694.9 945.2,695.4 C954.1,696.0 962.6,696.3 966.1,696.5"/>
<path d="M816.5,713.7 C820.0,712.1 830.8,706.7 837.9,704.0 C845.1,701.3 850.4,700.1 859.4,697.6 C868.3,695.1 880.9,690.8 891.6,689.0 C902.3,687.2 914.8,686.7 923.8,686.9 C932.7,687.0 941.7,689.5 945.2,690.1"/>
<path d="M966.1,641.4 L966.1,713.7"/>
<path d="M966.7,661.1 C972.1,662.2 991.0,666.6 998.9,667.5 C1006.8,668.4 1011.4,666.6 1013.9,666.5"/>
<path d="M966.7,680.4 C970.3,679.7 980.3,678.3 988.2,676.1 C996.0,674.0 1009.6,669.0 1013.9,667.5"/>
<path d="M966.7,693.3 C970.3,693.2 980.3,693.0 988.2,692.9 C996.0,692.7 1009.6,692.3 1013.9,692.2"/>
<path d="M966.7,697.6 C970.3,697.9 980.3,698.7 988.2,699.7 C996.0,700.8 1009.6,703.3 1013.9,704.0"/>
</g>
<g clip-path="url(#c1)">
<line x1="932.4" y1="649.3" x2="932.4" y2="530.2" stroke="#008000" stroke-width="5.1" stroke-dasharray="19,8.2"/>
<circle cx="932.4" cy="530.2" r="11.6" fill="#008000"/>
<circle cx="932.4" cy="649.3" r="11.6" fill="#008000"/>
<line x1="508.1" y1="642.2" x2="905.5" y2="534.5" stroke="#000" stroke-width="5.1" stroke-dasharray="19,8.2" stroke-dashoffset="0.0"/>
<path d="M497.8,631.9 L518.4,652.5 M497.8,652.5 L518.4,631.9" stroke="#000" stroke-width="3.4"/>
<path d="M895.2,524.2 L915.8,544.8 M895.2,544.8 L915.8,524.2" stroke="#000" stroke-width="3.4"/>
</g>
<rect x="135.6" y="430.9" width="879.0" height="280.4" fill="none" stroke="#000" stroke-width="2.75"/>
<line x1="123.6" y1="430.9" x2="135.6" y2="430.9" stroke="#000" stroke-width="2.75"/>
<text x="111" y="443.1" font-size="34.3" text-anchor="end" font-family="'DejaVu Sans','Liberation Sans',sans-serif">6</text>
<line x1="123.6" y1="501.0" x2="135.6" y2="501.0" stroke="#000" stroke-width="2.75"/>
<text x="111" y="513.2" font-size="34.3" text-anchor="end" font-family="'DejaVu Sans','Liberation Sans',sans-serif">4</text>
<line x1="123.6" y1="571.1" x2="135.6" y2="571.1" stroke="#000" stroke-width="2.75"/>
<text x="111" y="583.3" font-size="34.3" text-anchor="end" font-family="'DejaVu Sans','Liberation Sans',sans-serif">2</text>
<line x1="123.6" y1="641.2" x2="135.6" y2="641.2" stroke="#000" stroke-width="2.75"/>
<text x="111" y="653.4" font-size="34.3" text-anchor="end" font-family="'DejaVu Sans','Liberation Sans',sans-serif">0</text>
<line x1="123.6" y1="711.3" x2="135.6" y2="711.3" stroke="#000" stroke-width="2.75"/>
<text x="111" y="723.5" font-size="34.3" text-anchor="end" font-family="'DejaVu Sans','Liberation Sans',sans-serif">−2</text>
<line x1="135.6" y1="711.3" x2="135.6" y2="723.3" stroke="#000" stroke-width="2.75"/>
<line x1="272.9" y1="711.3" x2="272.9" y2="723.3" stroke="#000" stroke-width="2.75"/>
<line x1="361.0" y1="711.3" x2="361.0" y2="723.3" stroke="#000" stroke-width="2.75"/>
<line x1="508.1" y1="711.3" x2="508.1" y2="723.3" stroke="#000" stroke-width="2.75"/>
<line x1="578.8" y1="711.3" x2="578.8" y2="723.3" stroke="#000" stroke-width="2.75"/>
<line x1="740.6" y1="711.3" x2="740.6" y2="723.3" stroke="#000" stroke-width="2.75"/>
<line x1="814.0" y1="711.3" x2="814.0" y2="723.3" stroke="#000" stroke-width="2.75"/>
<line x1="839.3" y1="711.3" x2="839.3" y2="723.3" stroke="#000" stroke-width="2.75"/>
<line x1="966.3" y1="711.3" x2="966.3" y2="723.3" stroke="#000" stroke-width="2.75"/>
<line x1="1014.6" y1="711.3" x2="1014.6" y2="723.3" stroke="#000" stroke-width="2.75"/>
<text x="-3.0" y="411.3" font-size="44.5" font-family="'DejaVu Sans','Liberation Sans',sans-serif">(b)</text>
<text x="1022.7" y="417.2" font-size="41.4" text-anchor="end" font-family="'DejaVu Sans','Liberation Sans',sans-serif">U=5 eV</text>
<line x1="153" y1="401.2" x2="187.4" y2="401.2" stroke="#008000" stroke-width="5.1"/>
<circle cx="170.2" cy="401.2" r="11.6" fill="#008000"/>
<text y="412.0" font-size="34.3" font-family="'DejaVu Sans','Liberation Sans',sans-serif"><tspan x="190.5" font-style="italic">E</tspan></text>
<text x="214.5" y="398.6" font-size="24" font-style="italic" font-family="'DejaVu Sans','Liberation Sans',sans-serif">dir</text>
<text x="212.5" y="419.5" font-size="24" font-style="italic" font-family="'DejaVu Sans','Liberation Sans',sans-serif">g</text>
<text x="255.5" y="412.0" font-size="34.3" font-family="'DejaVu Sans','Liberation Sans',sans-serif">=</text>
<text x="291" y="412.0" font-size="34.3" font-family="'DejaVu Sans','Liberation Sans',sans-serif">3.42 eV</text>
<line x1="493" y1="401.6" x2="528" y2="401.6" stroke="#000" stroke-width="5.1" stroke-dasharray="15.3,12.5"/>
<path d="M500.5,391.3 L521.1,411.9 M500.5,411.9 L521.1,391.3" stroke="#000" stroke-width="3.4"/>
<text x="531.5" y="412.0" font-size="34.3" font-style="italic" font-family="'DejaVu Sans','Liberation Sans',sans-serif">E</text>
<text x="553.5" y="419.5" font-size="24" font-style="italic" font-family="'DejaVu Sans','Liberation Sans',sans-serif">g</text>
<text x="577" y="412.0" font-size="34.3" font-family="'DejaVu Sans','Liberation Sans',sans-serif">=</text>
<text x="612" y="412.0" font-size="34.3" font-family="'DejaVu Sans','Liberation Sans',sans-serif">3.09 eV</text>
<text transform="translate(37.8,570.0) rotate(-90)" text-anchor="middle" font-size="34.3" font-family="'DejaVu Sans','Liberation Sans',sans-serif">(<tspan font-style="italic">ε</tspan><tspan font-size="24" font-style="italic" dy="7">n</tspan><tspan dy="-7" dx="7.4">−</tspan><tspan dx="7.4" font-style="italic">ε</tspan><tspan font-size="24" font-style="italic" dy="7">F</tspan><tspan dy="-7">) / eV</tspan></text>
<clipPath id="c2"><rect x="135.6" y="809.3" width="879.0" height="280.4"/></clipPath>
<line x1="272.9" y1="809.3" x2="272.9" y2="1089.7" stroke="#d3d3d3" stroke-width="5.1"/>
<line x1="361.0" y1="809.3" x2="361.0" y2="1089.7" stroke="#d3d3d3" stroke-width="5.1"/>
<line x1="508.1" y1="809.3" x2="508.1" y2="1089.7" stroke="#d3d3d3" stroke-width="5.1"/>
<line x1="578.8" y1="809.3" x2="578.8" y2="1089.7" stroke="#d3d3d3" stroke-width="5.1"/>
<line x1="740.6" y1="809.3" x2="740.6" y2="1089.7" stroke="#d3d3d3" stroke-width="5.1"/>
<line x1="814.0" y1="809.3" x2="814.0" y2="1089.7" stroke="#d3d3d3" stroke-width="5.1"/>
<line x1="839.3" y1="809.3" x2="839.3" y2="1089.7" stroke="#d3d3d3" stroke-width="5.1"/>
<line x1="966.3" y1="809.3" x2="966.3" y2="1089.7" stroke="#d3d3d3" stroke-width="5.1"/>
<g clip-path="url(#c2)" fill="none" stroke="#ff0000" stroke-width="5.1" stroke-linejoin="round" stroke-linecap="round">
<path d="M137.5,893.0 C139.1,891.9 143.1,890.9 147.2,886.6 C151.3,882.3 156.8,873.7 162.2,867.2 C167.6,860.8 174.0,852.4 179.4,847.9 C184.7,843.5 188.3,842.9 194.4,840.4 C200.5,837.9 208.7,835.2 215.9,832.9 C223.0,830.6 230.2,828.4 237.3,826.5 C244.5,824.5 253.1,822.2 258.8,821.1 C264.5,820.0 264.5,820.1 271.7,819.6 C278.8,819.1 293.1,818.3 301.7,817.9 C310.3,817.4 315.1,817.1 323.2,816.8 C331.2,816.5 342.0,816.2 350.0,816.2 C358.1,816.2 364.3,816.3 371.5,816.8 C378.6,817.3 382.2,818.2 392.9,819.0 C403.7,819.7 421.5,820.6 435.9,821.1 C450.2,821.6 466.8,821.8 478.8,822.2 C490.8,822.5 498.8,823.2 507.8,823.2 C516.7,823.2 522.1,822.5 532.4,822.2 C542.8,821.8 560.2,821.3 570.0,821.1 C579.8,820.9 584.3,820.7 591.5,821.1 C598.6,821.5 605.8,822.5 612.9,823.2 C620.1,824.0 627.2,825.9 634.4,825.4 C641.5,824.9 648.7,821.6 655.9,820.0 C663.0,818.4 670.2,816.8 677.3,815.7 C684.5,814.7 691.6,814.1 698.8,813.6 C705.9,813.0 713.3,812.0 720.2,812.5 C727.2,813.0 733.5,815.7 740.6,816.8 C747.8,817.9 754.9,819.0 763.2,819.0 C771.4,819.0 781.5,817.9 790.0,816.8 C798.5,815.7 806.3,813.0 814.3,812.5 C822.3,812.0 826.8,812.9 837.9,813.6 C849.0,814.3 866.5,815.6 880.9,816.8 C895.2,818.1 909.6,819.8 923.8,821.1 C938.0,822.3 959.0,823.8 966.1,824.3"/>
<path d="M137.5,821.1 C139.8,821.5 146.6,822.5 151.5,823.2 C156.3,824.0 162.2,825.6 166.5,825.4 C170.8,825.2 174.4,824.0 177.2,822.2 C180.1,820.4 181.9,817.5 183.7,814.7 C185.4,811.8 187.2,806.6 188.0,805.0"/>
<path d="M137.5,822.2 C143.4,822.0 159.9,821.4 172.9,821.1 C186.0,820.8 201.5,820.6 215.9,820.5 C230.2,820.3 249.5,820.0 258.8,820.0 C268.1,820.0 264.5,819.9 271.7,820.5 C278.8,821.0 293.1,822.4 301.7,823.2 C310.3,824.1 315.1,825.4 323.2,825.4 C331.2,825.4 342.0,824.5 350.0,823.2 C358.1,822.0 364.3,818.1 371.5,817.9 C378.6,817.7 385.8,820.0 392.9,822.2 C400.1,824.3 407.2,827.9 414.4,830.8 C421.5,833.6 428.7,837.4 435.9,839.3 C443.0,841.3 450.2,842.6 457.3,842.6 C464.5,842.6 472.3,841.3 478.8,839.3 C485.2,837.4 491.1,833.1 496.0,830.8 C500.8,828.4 501.7,826.5 507.8,825.4 C513.8,824.2 522.1,824.2 532.4,823.9 C542.8,823.5 560.2,823.5 570.0,823.2 C579.8,823.0 584.3,822.1 591.5,822.2 C598.6,822.3 605.8,823.9 612.9,823.9 C620.1,823.9 627.2,823.2 634.4,822.2 C641.5,821.2 646.9,819.1 655.9,817.9 C664.8,816.6 677.3,815.2 688.1,814.7 C698.8,814.1 711.5,814.3 720.2,814.7 C729.0,815.0 733.5,816.8 740.6,816.8 C747.8,816.8 754.9,815.4 763.2,814.7 C771.4,813.9 781.5,812.7 790.0,812.5 C798.5,812.3 806.3,813.2 814.3,813.6 C822.3,813.9 830.4,813.0 837.9,814.7 C845.4,816.3 852.2,820.2 859.4,823.2 C866.5,826.3 873.7,829.9 880.9,832.9 C888.0,835.9 896.2,839.9 902.3,841.5 C908.4,843.1 912.0,843.1 917.3,842.6 C922.7,842.0 929.1,840.4 934.5,838.3 C939.9,836.1 944.3,832.2 949.5,829.7 C954.8,827.2 963.3,824.3 966.1,823.2"/>
<path d="M966.1,824.7 C966.1,823.9 962.4,820.7 966.1,819.6 C969.8,818.5 980.2,818.7 988.2,817.9 C996.2,817.1 1009.6,815.2 1013.9,814.7"/>
<path d="M612.9,822.2 C615.1,821.1 622.6,818.6 625.8,815.7 C629.0,812.9 631.2,806.8 632.2,805.0"/>
<path d="M511.0,805.0 C511.7,805.7 512.8,806.4 515.3,809.3 C517.8,812.2 522.4,816.4 526.0,822.2 C529.6,827.9 532.8,836.1 536.7,843.6 C540.7,851.1 545.7,860.4 549.6,867.2 C553.5,874.0 556.9,880.1 560.3,884.4 C563.7,888.7 568.4,891.6 570.0,893.0"/>
<path d="M578.6,893.0 C580.7,891.9 587.2,889.8 591.5,886.6 C595.8,883.3 600.0,878.7 604.3,873.7 C608.6,868.7 612.9,862.2 617.2,856.5 C621.5,850.8 626.2,843.3 630.1,839.3 C634.0,835.4 634.7,834.2 640.8,832.9 C646.9,831.7 656.9,832.4 666.6,831.8 C676.2,831.3 689.8,830.9 698.8,829.7 C707.7,828.4 713.3,826.3 720.2,824.3 C727.2,822.3 733.5,819.7 740.6,817.9 C747.8,816.1 754.9,814.7 763.2,813.6 C771.4,812.5 781.5,811.8 790.0,811.4 C798.5,811.1 808.1,811.4 814.3,811.4 C820.5,811.5 825.0,811.8 827.2,811.9"/>
<path d="M137.5,1032.5 C141.6,1032.3 152.7,1031.3 162.2,1031.4 C171.7,1031.6 183.7,1032.3 194.4,1033.6 C205.1,1034.8 215.9,1037.3 226.6,1039.0 C237.3,1040.6 251.3,1042.4 258.8,1043.2 C266.3,1044.1 267.4,1043.2 271.7,1044.3 C276.0,1045.4 279.5,1047.0 284.5,1049.7 C289.5,1052.4 297.1,1057.9 301.7,1060.4 C306.4,1062.9 307.1,1063.6 312.4,1064.7 C317.8,1065.9 327.6,1066.9 333.9,1067.3 C340.2,1067.6 342.0,1068.0 350.0,1066.9 C358.1,1065.7 371.5,1061.9 382.2,1060.4 C392.9,1059.0 405.4,1059.0 414.4,1058.3 C423.3,1057.6 426.9,1056.8 435.9,1056.1 C444.8,1055.5 456.1,1054.9 468.1,1054.4 C480.0,1053.9 495.2,1054.1 507.8,1052.9 C520.3,1051.8 532.8,1049.7 543.2,1047.5 C553.5,1045.4 565.5,1041.3 570.0,1040.0"/>
<path d="M137.5,1036.8 C141.6,1036.3 152.7,1033.8 162.2,1033.6 C171.7,1033.4 185.4,1034.5 194.4,1035.7 C203.3,1037.0 208.7,1038.4 215.9,1041.1 C223.0,1043.8 230.2,1047.9 237.3,1051.8 C244.5,1055.8 253.1,1061.5 258.8,1064.7 C264.5,1067.9 266.3,1069.0 271.7,1071.2 C277.0,1073.3 284.2,1075.1 291.0,1077.6 C297.8,1080.1 307.1,1083.7 312.4,1086.2 C317.8,1088.7 321.4,1091.5 323.2,1092.6"/>
<path d="M137.5,1037.9 C143.4,1039.9 159.9,1045.2 172.9,1049.7 C186.0,1054.2 203.3,1061.1 215.9,1064.7 C228.4,1068.3 238.8,1069.9 248.1,1071.2 C257.4,1072.4 262.7,1072.9 271.7,1072.2 C280.6,1071.5 293.1,1068.5 301.7,1066.9 C310.3,1065.2 315.1,1064.2 323.2,1062.6 C331.2,1061.0 340.2,1059.0 350.0,1057.2 C359.8,1055.4 371.5,1053.4 382.2,1051.8 C392.9,1050.2 405.4,1049.3 414.4,1047.5 C423.3,1045.8 426.9,1044.0 435.9,1041.1 C444.8,1038.2 459.1,1033.2 468.1,1030.4 C477.0,1027.5 482.9,1025.4 489.5,1023.9 C496.1,1022.5 500.6,1021.4 507.8,1021.8 C514.9,1022.1 524.8,1024.6 532.4,1026.1 C540.1,1027.5 547.6,1028.9 553.9,1030.4 C560.2,1031.8 567.3,1033.9 570.0,1034.7"/>
<path d="M137.5,1039.0 C139.8,1040.4 147.3,1043.6 151.5,1047.5 C155.6,1051.5 158.6,1057.9 162.2,1062.6 C165.8,1067.2 169.0,1070.3 172.9,1075.4 C176.9,1080.6 183.7,1090.6 185.8,1093.7"/>
<path d="M137.5,1040.0 C141.6,1041.6 154.5,1044.9 162.2,1049.7 C169.9,1054.5 176.1,1061.7 183.7,1069.0 C191.2,1076.3 203.3,1089.6 207.3,1093.7"/>
<path d="M380.0,1093.7 C385.8,1090.3 403.3,1079.6 414.4,1073.3 C425.5,1067.0 437.6,1061.5 446.6,1056.1 C455.5,1050.8 460.9,1045.8 468.1,1041.1 C475.2,1036.5 482.9,1031.4 489.5,1028.2 C496.1,1025.1 504.7,1023.2 507.8,1022.2"/>
<path d="M390.8,1093.7 C396.5,1090.6 414.0,1081.3 425.1,1075.4 C436.2,1069.5 448.4,1063.6 457.3,1058.3 C466.3,1052.9 472.3,1047.9 478.8,1043.2 C485.2,1038.6 491.1,1033.9 496.0,1030.4 C500.8,1026.9 505.8,1023.6 507.8,1022.2"/>
<path d="M519.6,1093.7 C523.5,1089.2 537.1,1074.2 543.2,1066.9 C549.3,1059.5 551.6,1054.7 556.1,1049.7 C560.5,1044.7 567.7,1039.0 570.0,1036.8"/>
<path d="M578.6,1034.7 C582.5,1033.8 592.9,1029.7 602.2,1029.3 C611.5,1028.9 623.7,1030.5 634.4,1032.5 C645.1,1034.5 655.9,1038.2 666.6,1041.1 C677.3,1044.0 686.4,1047.2 698.8,1049.7 C711.1,1052.2 729.9,1056.5 740.6,1056.1 C751.4,1055.8 754.9,1050.4 763.2,1047.5 C771.4,1044.7 781.5,1040.7 790.0,1039.0 C798.5,1037.2 806.3,1036.5 814.3,1036.8 C822.3,1037.2 828.6,1040.2 837.9,1041.1 C847.2,1042.0 859.4,1043.1 870.1,1042.2 C880.9,1041.3 891.6,1038.4 902.3,1035.7 C913.1,1033.1 923.9,1028.4 934.5,1026.1 C945.1,1023.8 960.8,1022.5 966.1,1021.8"/>
<path d="M578.6,1035.7 C584.3,1036.3 601.8,1037.0 612.9,1039.0 C624.0,1040.9 634.4,1043.6 645.1,1047.5 C655.9,1051.5 668.4,1057.6 677.3,1062.6 C686.3,1067.6 693.4,1074.0 698.8,1077.6 C704.1,1081.2 705.9,1083.7 709.5,1084.0 C713.1,1084.4 715.1,1083.3 720.2,1079.7 C725.4,1076.2 733.5,1066.9 740.6,1062.6 C747.8,1058.3 754.9,1056.1 763.2,1054.0 C771.4,1051.8 781.5,1052.4 790.0,1049.7 C798.5,1047.0 806.3,1038.2 814.3,1037.9 C822.3,1037.5 828.6,1044.5 837.9,1047.5 C847.2,1050.6 861.2,1054.5 870.1,1056.1 C879.1,1057.7 884.4,1058.3 891.6,1057.2 C898.7,1056.1 905.9,1053.1 913.1,1049.7 C920.2,1046.3 927.4,1040.7 934.5,1036.8 C941.7,1032.9 950.7,1028.4 956.0,1026.1 C961.2,1023.8 964.4,1023.4 966.1,1022.9"/>
<path d="M578.6,1036.8 C582.5,1037.9 592.9,1039.3 602.2,1043.2 C611.5,1047.2 623.7,1054.7 634.4,1060.4 C645.1,1066.1 657.3,1072.0 666.6,1077.6 C675.9,1083.1 686.3,1091.0 690.2,1093.7"/>
<path d="M578.6,1037.9 C582.5,1040.9 594.7,1049.9 602.2,1056.1 C609.7,1062.4 617.2,1069.2 623.7,1075.4 C630.1,1081.7 638.0,1090.6 640.8,1093.7"/>
<path d="M578.6,1037.9 C581.8,1041.3 592.2,1052.0 597.9,1058.3 C603.6,1064.5 607.9,1069.5 612.9,1075.4 C617.9,1081.3 625.4,1090.6 628.0,1093.7"/>
<path d="M748.1,1093.7 C752.4,1091.9 766.9,1085.0 773.9,1083.0 C780.9,1080.9 782.9,1081.6 790.0,1081.5 C797.1,1081.3 808.5,1081.8 816.5,1081.9 C824.5,1082.0 829.0,1084.0 837.9,1081.9 C846.9,1079.7 861.2,1072.2 870.1,1069.0 C879.1,1065.8 884.4,1064.7 891.6,1062.6 C898.7,1060.4 904.1,1057.6 913.1,1056.1 C922.0,1054.7 936.4,1054.3 945.2,1054.0 C954.1,1053.6 962.6,1054.0 966.1,1054.0"/>
<path d="M795.0,1086.2 C798.6,1086.0 809.3,1085.5 816.5,1085.1 C823.6,1084.7 830.8,1083.5 837.9,1084.0 C845.1,1084.6 855.8,1087.6 859.4,1088.3"/>
<path d="M966.1,1021.4 L966.1,1093.7"/>
<path d="M966.7,1043.7 C970.3,1043.6 980.3,1043.5 988.2,1043.2 C996.0,1043.0 1009.6,1042.4 1013.9,1042.2"/>
<path d="M966.7,1072.2 C970.3,1070.3 980.3,1064.9 988.2,1060.4 C996.0,1055.9 1009.6,1047.9 1013.9,1045.4"/>
<path d="M966.7,1073.3 C970.3,1073.7 980.3,1074.7 988.2,1075.9 C996.0,1077.0 1009.6,1079.5 1013.9,1080.2"/>
<path d="M983.9,1093.7 C986.4,1092.4 993.9,1088.1 998.9,1086.2 C1003.9,1084.2 1011.4,1082.6 1013.9,1081.9"/>
</g>
<g clip-path="url(#c2)">
<line x1="578.6" y1="1034.7" x2="578.6" y2="893.0" stroke="#008000" stroke-width="5.1" stroke-dasharray="19,8.2"/>
<circle cx="578.6" cy="893.0" r="11.6" fill="#008000"/>
<circle cx="578.6" cy="1034.7" r="11.6" fill="#008000"/>
<line x1="138.6" y1="892.5" x2="507.9" y2="1022.9" stroke="#000" stroke-width="5.1" stroke-dasharray="19,8.2" stroke-dashoffset="13.4"/>
<path d="M128.3,882.2 L148.9,902.8 M128.3,902.8 L148.9,882.2" stroke="#000" stroke-width="3.4"/>
<path d="M497.6,1012.6 L518.2,1033.2 M497.6,1033.2 L518.2,1012.6" stroke="#000" stroke-width="3.4"/>
</g>
<rect x="135.6" y="809.3" width="879.0" height="280.4" fill="none" stroke="#000" stroke-width="2.75"/>
<line x1="123.6" y1="809.3" x2="135.6" y2="809.3" stroke="#000" stroke-width="2.75"/>
<text x="111" y="821.5" font-size="34.3" text-anchor="end" font-family="'DejaVu Sans','Liberation Sans',sans-serif">6</text>
<line x1="123.6" y1="879.4" x2="135.6" y2="879.4" stroke="#000" stroke-width="2.75"/>
<text x="111" y="891.6" font-size="34.3" text-anchor="end" font-family="'DejaVu Sans','Liberation Sans',sans-serif">4</text>
<line x1="123.6" y1="949.5" x2="135.6" y2="949.5" stroke="#000" stroke-width="2.75"/>
<text x="111" y="961.7" font-size="34.3" text-anchor="end" font-family="'DejaVu Sans','Liberation Sans',sans-serif">2</text>
<line x1="123.6" y1="1019.6" x2="135.6" y2="1019.6" stroke="#000" stroke-width="2.75"/>
<text x="111" y="1031.8" font-size="34.3" text-anchor="end" font-family="'DejaVu Sans','Liberation Sans',sans-serif">0</text>
<line x1="123.6" y1="1089.7" x2="135.6" y2="1089.7" stroke="#000" stroke-width="2.75"/>
<text x="111" y="1101.9" font-size="34.3" text-anchor="end" font-family="'DejaVu Sans','Liberation Sans',sans-serif">−2</text>
<line x1="135.6" y1="1089.7" x2="135.6" y2="1101.7" stroke="#000" stroke-width="2.75"/>
<line x1="272.9" y1="1089.7" x2="272.9" y2="1101.7" stroke="#000" stroke-width="2.75"/>
<line x1="361.0" y1="1089.7" x2="361.0" y2="1101.7" stroke="#000" stroke-width="2.75"/>
<line x1="508.1" y1="1089.7" x2="508.1" y2="1101.7" stroke="#000" stroke-width="2.75"/>
<line x1="578.8" y1="1089.7" x2="578.8" y2="1101.7" stroke="#000" stroke-width="2.75"/>
<line x1="740.6" y1="1089.7" x2="740.6" y2="1101.7" stroke="#000" stroke-width="2.75"/>
<line x1="814.0" y1="1089.7" x2="814.0" y2="1101.7" stroke="#000" stroke-width="2.75"/>
<line x1="839.3" y1="1089.7" x2="839.3" y2="1101.7" stroke="#000" stroke-width="2.75"/>
<line x1="966.3" y1="1089.7" x2="966.3" y2="1101.7" stroke="#000" stroke-width="2.75"/>
<line x1="1014.6" y1="1089.7" x2="1014.6" y2="1101.7" stroke="#000" stroke-width="2.75"/>
<text x="-3.0" y="790.1" font-size="44.5" font-family="'DejaVu Sans','Liberation Sans',sans-serif">(c)</text>
<text x="1022.3" y="796.4" font-size="41.4" text-anchor="end" font-family="'DejaVu Sans','Liberation Sans',sans-serif">U=10 eV</text>
<line x1="153" y1="779.6" x2="187.4" y2="779.6" stroke="#008000" stroke-width="5.1"/>
<circle cx="170.2" cy="779.6" r="11.6" fill="#008000"/>
<text y="790.4" font-size="34.3" font-family="'DejaVu Sans','Liberation Sans',sans-serif"><tspan x="190.5" font-style="italic">E</tspan></text>
<text x="214.5" y="777.0" font-size="24" font-style="italic" font-family="'DejaVu Sans','Liberation Sans',sans-serif">dir</text>
<text x="212.5" y="797.9" font-size="24" font-style="italic" font-family="'DejaVu Sans','Liberation Sans',sans-serif">g</text>
<text x="255.5" y="790.4" font-size="34.3" font-family="'DejaVu Sans','Liberation Sans',sans-serif">=</text>
<text x="291" y="790.4" font-size="34.3" font-family="'DejaVu Sans','Liberation Sans',sans-serif">4.03 eV</text>
<line x1="493" y1="780.0" x2="528" y2="780.0" stroke="#000" stroke-width="5.1" stroke-dasharray="15.3,12.5"/>
<path d="M500.5,769.7 L521.1,790.3 M500.5,790.3 L521.1,769.7" stroke="#000" stroke-width="3.4"/>
<text x="531.5" y="790.4" font-size="34.3" font-style="italic" font-family="'DejaVu Sans','Liberation Sans',sans-serif">E</text>
<text x="553.5" y="797.9" font-size="24" font-style="italic" font-family="'DejaVu Sans','Liberation Sans',sans-serif">g</text>
<text x="577" y="790.4" font-size="34.3" font-family="'DejaVu Sans','Liberation Sans',sans-serif">=</text>
<text x="612" y="790.4" font-size="34.3" font-family="'DejaVu Sans','Liberation Sans',sans-serif">3.7 eV</text>
<text transform="translate(37.8,948.4) rotate(-90)" text-anchor="middle" font-size="34.3" font-family="'DejaVu Sans','Liberation Sans',sans-serif">(<tspan font-style="italic">ε</tspan><tspan font-size="24" font-style="italic" dy="7">n</tspan><tspan dy="-7" dx="7.4">−</tspan><tspan dx="7.4" font-style="italic">ε</tspan><tspan font-size="24" font-style="italic" dy="7">F</tspan><tspan dy="-7">) / eV</tspan></text>
<clipPath id="c3"><rect x="135.6" y="1187.7" width="879.0" height="280.4"/></clipPath>
<line x1="272.9" y1="1187.7" x2="272.9" y2="1468.1" stroke="#d3d3d3" stroke-width="5.1"/>
<line x1="361.0" y1="1187.7" x2="361.0" y2="1468.1" stroke="#d3d3d3" stroke-width="5.1"/>
<line x1="508.1" y1="1187.7" x2="508.1" y2="1468.1" stroke="#d3d3d3" stroke-width="5.1"/>
<line x1="578.8" y1="1187.7" x2="578.8" y2="1468.1" stroke="#d3d3d3" stroke-width="5.1"/>
<line x1="740.6" y1="1187.7" x2="740.6" y2="1468.1" stroke="#d3d3d3" stroke-width="5.1"/>
<line x1="814.0" y1="1187.7" x2="814.0" y2="1468.1" stroke="#d3d3d3" stroke-width="5.1"/>
<line x1="839.3" y1="1187.7" x2="839.3" y2="1468.1" stroke="#d3d3d3" stroke-width="5.1"/>
<line x1="966.3" y1="1187.7" x2="966.3" y2="1468.1" stroke="#d3d3d3" stroke-width="5.1"/>
<g clip-path="url(#c3)" fill="none" stroke="#ff0000" stroke-width="5.1" stroke-linejoin="round" stroke-linecap="round">
<path d="M136.5,1306.9 C138.0,1306.5 142.8,1305.7 145.6,1304.4 C148.4,1303.1 150.8,1301.2 153.4,1299.0 C156.0,1296.8 158.6,1294.2 161.2,1291.1 C163.8,1288.0 166.4,1284.1 169.0,1280.2 C171.6,1276.3 174.2,1272.1 176.8,1267.7 C179.4,1263.3 182.0,1258.4 184.6,1253.7 C187.2,1249.0 189.8,1244.3 192.4,1239.6 C195.0,1234.9 197.6,1230.5 200.2,1225.6 C202.8,1220.7 205.4,1215.2 208.0,1210.0 C210.6,1204.8 213.9,1198.2 215.9,1194.4 C217.9,1190.6 219.0,1188.9 219.8,1187.3 C220.7,1185.7 220.8,1185.4 221.0,1185.0"/>
<path d="M458.4,1185.0 C458.9,1185.5 458.9,1185.7 461.6,1188.2 C464.3,1190.7 469.8,1195.9 474.5,1200.0 C479.1,1204.1 485.2,1209.8 489.5,1212.9 C493.8,1216.1 497.2,1217.7 500.2,1218.9 C503.3,1220.2 504.2,1216.4 507.8,1220.4 C511.3,1224.4 516.9,1235.3 521.7,1243.0 C526.5,1250.6 531.4,1258.3 536.7,1266.6 C542.1,1274.8 548.4,1285.7 553.9,1292.3 C559.5,1298.9 565.9,1303.8 570.0,1306.3 C574.1,1308.8 575.0,1308.1 578.6,1307.3 C582.2,1306.6 586.8,1305.6 591.5,1302.0 C596.1,1298.4 601.5,1292.1 606.5,1285.9 C611.5,1279.6 616.5,1272.3 621.5,1264.4 C626.5,1256.5 631.5,1247.2 636.5,1238.7 C641.5,1230.1 646.7,1221.8 651.6,1212.9 C656.4,1204.0 663.2,1189.7 665.5,1185.0"/>
<path d="M507.8,1219.8 C509.4,1217.6 513.3,1212.3 517.4,1206.5 C521.5,1200.7 529.9,1188.6 532.4,1185.0"/>
<path d="M137.5,1341.7 C141.6,1341.9 152.7,1341.9 162.2,1342.8 C171.7,1343.7 183.7,1345.6 194.4,1347.1 C205.1,1348.5 217.6,1350.6 226.6,1351.3 C235.5,1352.1 240.5,1351.5 248.1,1351.3 C255.6,1351.2 262.7,1351.0 271.7,1350.3 C280.6,1349.6 293.1,1347.8 301.7,1347.1 C310.3,1346.3 315.1,1346.0 323.2,1346.0 C331.2,1346.0 340.2,1346.2 350.0,1347.1 C359.8,1347.9 371.5,1350.1 382.2,1351.3 C392.9,1352.6 403.7,1354.6 414.4,1354.6 C425.1,1354.6 435.9,1351.5 446.6,1351.3 C457.3,1351.2 468.6,1352.8 478.8,1353.5 C489.0,1354.2 498.8,1356.0 507.8,1355.6 C516.7,1355.3 524.8,1353.1 532.4,1351.3 C540.1,1349.6 547.6,1346.7 553.9,1344.9 C560.2,1343.1 563.7,1341.1 570.0,1340.6 C576.3,1340.1 584.3,1340.6 591.5,1341.7 C598.6,1342.8 604.0,1345.1 612.9,1347.1 C621.9,1349.0 636.2,1354.0 645.1,1353.5 C654.1,1353.0 658.4,1346.5 666.6,1343.8 C674.8,1341.1 685.5,1337.4 694.5,1337.4 C703.4,1337.4 712.6,1341.5 720.2,1343.8 C727.9,1346.2 733.5,1351.5 740.6,1351.3 C747.8,1351.2 754.9,1345.1 763.2,1342.8 C771.4,1340.4 781.5,1338.5 790.0,1337.4 C798.5,1336.3 806.3,1336.0 814.3,1336.3 C822.3,1336.7 828.6,1339.0 837.9,1339.5 C847.2,1340.1 859.4,1338.8 870.1,1339.5 C880.9,1340.3 891.6,1341.7 902.3,1343.8 C913.1,1346.0 923.9,1350.5 934.5,1352.4 C945.1,1354.4 960.8,1355.1 966.1,1355.6"/>
<path d="M137.5,1341.7 C139.8,1342.2 146.3,1343.1 151.5,1344.9 C156.7,1346.7 162.2,1349.9 168.6,1352.4 C175.1,1354.9 182.9,1358.9 190.1,1359.9 C197.3,1361.0 204.4,1359.9 211.6,1358.9 C218.7,1357.8 226.9,1354.6 233.0,1353.5 C239.1,1352.4 241.6,1352.4 248.1,1352.4 C254.5,1352.4 262.7,1353.3 271.7,1353.5 C280.6,1353.7 293.1,1353.7 301.7,1353.5 C310.3,1353.3 315.1,1352.8 323.2,1352.4 C331.2,1352.1 338.4,1351.0 350.0,1351.3 C361.6,1351.7 380.4,1353.7 392.9,1354.6 C405.4,1355.5 416.2,1355.6 425.1,1356.7 C434.1,1357.8 439.4,1360.5 446.6,1361.0 C453.7,1361.5 460.9,1360.6 468.1,1359.9 C475.2,1359.2 482.9,1357.4 489.5,1356.7 C496.1,1356.0 500.6,1356.0 507.8,1355.6 C514.9,1355.3 522.1,1356.4 532.4,1354.6 C542.8,1352.8 560.2,1346.7 570.0,1344.9 C579.8,1343.1 586.1,1343.7 591.5,1343.8 C596.8,1344.0 595.8,1344.4 602.2,1346.0 C608.6,1347.6 621.2,1351.5 630.1,1353.5 C639.0,1355.5 646.0,1356.5 655.9,1357.8 C665.7,1359.1 680.2,1361.3 689.1,1361.4 C698.1,1361.6 700.9,1360.5 709.5,1358.9 C718.1,1357.2 731.7,1352.4 740.6,1351.3 C749.6,1350.3 754.9,1353.3 763.2,1352.4 C771.4,1351.5 781.5,1348.5 790.0,1346.0 C798.5,1343.5 806.3,1338.1 814.3,1337.4 C822.3,1336.7 830.4,1339.2 837.9,1341.7 C845.4,1344.2 852.2,1349.4 859.4,1352.4 C866.5,1355.5 873.2,1358.0 880.9,1359.9 C888.5,1361.9 898.4,1364.0 905.5,1364.2 C912.7,1364.4 917.2,1362.3 923.8,1361.0 C930.4,1359.8 938.2,1357.8 945.2,1356.7 C952.3,1355.6 962.6,1354.9 966.1,1354.6"/>
<path d="M966.1,1352.4 C969.8,1351.7 980.2,1350.1 988.2,1348.1 C996.2,1346.2 1009.6,1341.9 1013.9,1340.6"/>
<path d="M966.1,1350.3 C969.8,1349.7 980.2,1348.8 988.2,1347.1 C996.2,1345.3 1009.6,1340.8 1013.9,1339.5"/>
<path d="M915.2,1185.0 C915.9,1185.5 916.6,1185.7 919.5,1188.2 C922.4,1190.7 928.1,1196.3 932.4,1200.0 C936.7,1203.8 941.0,1207.7 945.2,1210.8 C949.5,1213.8 954.7,1216.5 958.1,1218.3 C961.6,1220.1 964.7,1221.0 966.1,1221.5"/>
<path d="M966.1,1221.9 L966.1,1185.0"/>
<path d="M137.5,1411.4 C141.6,1411.3 152.7,1411.1 162.2,1410.4 C171.7,1409.7 183.7,1408.4 194.4,1407.2 C205.1,1405.9 217.6,1403.9 226.6,1402.9 C235.5,1401.8 240.5,1401.2 248.1,1400.7 C255.6,1400.2 262.7,1399.5 271.7,1399.6 C280.6,1399.8 293.1,1401.1 301.7,1401.8 C310.3,1402.5 315.1,1403.4 323.2,1403.9 C331.2,1404.5 340.2,1405.4 350.0,1405.0 C359.8,1404.6 371.5,1402.7 382.2,1401.8 C392.9,1400.9 403.7,1399.3 414.4,1399.6 C425.1,1400.0 435.9,1402.0 446.6,1403.9 C457.3,1405.9 468.6,1409.3 478.8,1411.4 C489.0,1413.6 498.8,1416.3 507.8,1416.8 C516.7,1417.3 522.1,1415.5 532.4,1414.7 C542.8,1413.9 560.2,1412.6 570.0,1412.1 C579.8,1411.6 582.5,1412.1 591.5,1411.4 C600.4,1410.8 612.9,1409.7 623.7,1408.2 C634.4,1406.8 644.9,1404.3 655.9,1402.9 C666.8,1401.4 678.4,1399.5 689.1,1399.6 C699.9,1399.8 711.7,1402.9 720.2,1403.9 C728.8,1405.0 733.5,1406.1 740.6,1406.1 C747.8,1406.1 754.9,1404.6 763.2,1403.9 C771.4,1403.2 781.1,1402.5 790.0,1401.8 C798.9,1401.1 808.5,1400.0 816.5,1399.6 C824.5,1399.3 827.2,1399.3 837.9,1399.6 C848.7,1400.0 866.5,1400.4 880.9,1401.8 C895.2,1403.2 909.6,1405.7 923.8,1408.2 C938.0,1410.7 959.0,1415.4 966.1,1416.8"/>
<path d="M137.5,1414.7 C141.6,1414.5 154.5,1413.6 162.2,1413.6 C169.9,1413.6 176.5,1413.8 183.7,1414.7 C190.8,1415.6 198.0,1417.5 205.1,1419.0 C212.3,1420.4 219.4,1422.2 226.6,1423.2 C233.7,1424.3 240.5,1424.9 248.1,1425.4 C255.6,1425.9 262.7,1426.8 271.7,1426.5 C280.6,1426.1 293.1,1424.9 301.7,1423.2 C310.3,1421.6 315.1,1419.1 323.2,1416.8 C331.2,1414.5 340.2,1411.1 350.0,1409.3 C359.8,1407.5 371.5,1406.4 382.2,1406.1 C392.9,1405.7 403.7,1406.4 414.4,1407.2 C425.1,1407.9 435.9,1409.3 446.6,1410.4 C457.3,1411.4 468.6,1412.3 478.8,1413.6 C489.0,1414.8 498.8,1417.3 507.8,1417.9 C516.7,1418.4 522.1,1417.3 532.4,1416.8 C542.8,1416.3 560.2,1415.7 570.0,1415.1 C579.8,1414.4 584.3,1413.4 591.5,1412.9 C598.6,1412.5 602.2,1413.1 612.9,1412.5 C623.7,1411.9 643.2,1411.1 655.9,1409.3 C668.6,1407.5 680.2,1402.7 689.1,1401.8 C698.1,1400.9 700.9,1402.9 709.5,1403.9 C718.1,1405.0 731.7,1406.8 740.6,1408.2 C749.6,1409.7 754.9,1411.3 763.2,1412.5 C771.4,1413.8 781.1,1415.2 790.0,1415.7 C798.9,1416.3 808.5,1415.6 816.5,1415.7 C824.5,1415.9 827.2,1416.6 837.9,1416.8 C848.7,1417.0 866.5,1416.6 880.9,1416.8 C895.2,1417.0 909.6,1417.3 923.8,1417.9 C938.0,1418.4 959.0,1419.7 966.1,1420.0"/>
<path d="M137.5,1415.7 C143.4,1415.7 161.7,1414.8 172.9,1415.7 C184.2,1416.6 194.4,1419.1 205.1,1421.1 C215.9,1423.1 226.2,1426.1 237.3,1427.5 C248.4,1429.0 260.9,1429.7 271.7,1429.7 C282.4,1429.7 293.1,1427.9 301.7,1427.5 C310.3,1427.2 315.1,1427.5 323.2,1427.5 C331.2,1427.5 340.2,1428.3 350.0,1427.5 C359.8,1426.8 371.5,1423.6 382.2,1423.2 C392.9,1422.9 403.7,1424.1 414.4,1425.4 C425.1,1426.6 437.6,1429.9 446.6,1430.8 C455.5,1431.7 460.9,1432.0 468.1,1430.8 C475.2,1429.5 482.9,1425.4 489.5,1423.2 C496.1,1421.1 494.3,1419.4 507.8,1417.9 C521.2,1416.4 552.5,1414.6 570.0,1414.2 C587.5,1413.9 598.6,1415.3 612.9,1415.7 C627.2,1416.2 643.2,1416.8 655.9,1416.8 C668.6,1416.8 678.4,1416.5 689.1,1415.7 C699.9,1415.0 711.7,1413.8 720.2,1412.5 C728.8,1411.3 724.6,1410.0 740.6,1408.2 C756.7,1406.4 800.2,1402.9 816.5,1401.8 C832.7,1400.7 827.2,1401.4 837.9,1401.8 C848.7,1402.1 866.5,1402.3 880.9,1403.9 C895.2,1405.5 909.6,1408.9 923.8,1411.4 C938.0,1413.9 959.0,1417.7 966.1,1419.0"/>
<path d="M137.5,1449.0 C139.8,1448.5 145.6,1448.3 151.5,1445.8 C157.4,1443.3 165.8,1436.7 172.9,1434.0 C180.1,1431.3 187.2,1430.8 194.4,1429.7 C201.5,1428.6 208.7,1428.3 215.9,1427.5 C223.0,1426.8 228.0,1425.9 237.3,1425.4 C246.6,1424.9 260.9,1424.1 271.7,1424.3 C282.4,1424.5 288.7,1425.8 301.7,1426.5 C314.8,1427.2 336.6,1428.4 350.0,1428.6 C363.4,1428.8 373.3,1427.0 382.2,1427.5 C391.1,1428.1 396.5,1430.0 403.7,1431.8 C410.8,1433.6 418.0,1436.5 425.1,1438.3 C432.3,1440.1 439.4,1442.6 446.6,1442.6 C453.7,1442.6 460.9,1441.1 468.1,1438.3 C475.2,1435.4 482.9,1428.6 489.5,1425.4 C496.1,1422.2 500.6,1418.6 507.8,1419.0 C514.9,1419.3 524.8,1424.0 532.4,1427.5 C540.1,1431.1 547.6,1437.0 553.9,1440.4 C560.2,1443.8 565.9,1446.6 570.0,1447.9 C574.1,1449.3 573.2,1448.9 578.6,1448.6 C584.0,1448.2 592.9,1447.1 602.2,1445.8 C611.5,1444.4 621.9,1442.2 634.4,1440.4 C646.9,1438.6 663.0,1436.5 677.3,1435.1 C691.6,1433.6 709.7,1432.7 720.2,1431.8 C730.8,1430.9 733.5,1430.0 740.6,1429.7 C747.8,1429.3 754.9,1429.3 763.2,1429.7 C771.4,1430.0 781.1,1430.9 790.0,1431.8 C798.9,1432.7 806.7,1434.7 816.5,1435.1 C826.2,1435.4 837.9,1433.8 848.7,1434.0 C859.4,1434.2 871.9,1435.2 880.9,1436.1 C889.8,1437.0 895.2,1439.0 902.3,1439.3 C909.5,1439.7 916.6,1439.9 923.8,1438.3 C930.9,1436.7 938.2,1432.5 945.2,1429.7 C952.3,1426.8 962.6,1422.5 966.1,1421.1"/>
<path d="M137.5,1449.0 C141.6,1448.3 152.7,1446.9 162.2,1444.7 C171.7,1442.6 185.4,1438.5 194.4,1436.1 C203.3,1433.8 208.7,1432.2 215.9,1430.8 C223.0,1429.3 228.0,1428.4 237.3,1427.5 C246.6,1426.6 265.9,1425.8 271.7,1425.4"/>
<path d="M570.0,1445.8 C571.4,1446.1 575.0,1448.5 578.6,1447.9 C582.2,1447.4 585.7,1445.2 591.5,1442.6 C597.2,1439.9 605.8,1434.5 612.9,1431.8 C620.1,1429.2 625.4,1427.5 634.4,1426.5 C643.3,1425.4 655.9,1425.2 666.6,1425.4 C677.3,1425.6 686.4,1427.9 698.8,1427.5 C711.1,1427.2 729.9,1423.8 740.6,1423.2 C751.4,1422.7 754.9,1423.8 763.2,1424.3 C771.4,1424.9 781.1,1425.6 790.0,1426.5 C798.9,1427.4 808.5,1429.2 816.5,1429.7 C824.5,1430.2 829.0,1429.0 837.9,1429.7 C846.9,1430.4 859.4,1432.4 870.1,1434.0 C880.9,1435.6 891.6,1440.1 902.3,1439.3 C913.1,1438.6 923.9,1433.1 934.5,1429.7 C945.1,1426.3 960.8,1420.7 966.1,1419.0"/>
<path d="M137.5,1464.0 C141.6,1463.3 152.7,1461.5 162.2,1459.7 C171.7,1457.9 183.7,1455.3 194.4,1453.3 C205.1,1451.3 213.7,1449.0 226.6,1447.9 C239.5,1446.9 259.1,1446.7 271.7,1446.9 C284.2,1447.0 288.7,1447.9 301.7,1449.0 C314.8,1450.1 336.6,1452.9 350.0,1453.3 C363.4,1453.7 371.5,1451.9 382.2,1451.2 C392.9,1450.4 403.7,1449.2 414.4,1449.0 C425.1,1448.8 435.9,1448.8 446.6,1450.1 C457.3,1451.3 468.6,1454.9 478.8,1456.5 C489.0,1458.1 497.0,1459.0 507.8,1459.7 C518.5,1460.5 532.8,1460.3 543.2,1460.8 C553.5,1461.3 565.5,1462.6 570.0,1463.0"/>
<path d="M162.2,1464.0 C167.6,1463.0 183.7,1459.4 194.4,1457.6 C205.1,1455.8 213.7,1454.2 226.6,1453.3 C239.5,1452.4 259.1,1452.2 271.7,1452.2 C284.2,1452.2 288.7,1452.7 301.7,1453.3 C314.8,1453.9 336.6,1454.6 350.0,1455.9 C363.4,1457.1 371.5,1459.5 382.2,1460.8 C392.9,1462.2 403.7,1463.3 414.4,1464.0 C425.1,1464.7 437.6,1464.6 446.6,1465.1 C455.5,1465.6 464.5,1466.9 468.1,1467.2"/>
<path d="M297.4,1468.3 C301.7,1467.1 314.4,1462.6 323.2,1460.8 C331.9,1459.0 345.5,1458.1 350.0,1457.6"/>
<path d="M570.0,1464.0 C575.4,1463.3 591.5,1461.3 602.2,1459.7 C612.9,1458.1 623.7,1455.6 634.4,1454.4 C645.1,1453.1 655.9,1452.4 666.6,1452.2 C677.3,1452.0 686.4,1452.8 698.8,1453.3 C711.1,1453.8 729.9,1455.3 740.6,1455.4 C751.4,1455.6 754.9,1454.9 763.2,1454.4 C771.4,1453.8 781.1,1453.1 790.0,1452.2 C798.9,1451.3 808.5,1449.5 816.5,1449.0 C824.5,1448.5 827.2,1448.5 837.9,1449.0 C848.7,1449.5 866.5,1451.2 880.9,1452.2 C895.2,1453.3 909.6,1454.2 923.8,1455.4 C938.0,1456.7 959.0,1459.0 966.1,1459.7"/>
<path d="M602.2,1466.6 C607.6,1465.8 621.9,1463.2 634.4,1461.9 C646.9,1460.6 663.0,1459.2 677.3,1458.7 C691.6,1458.1 709.5,1458.1 720.2,1458.7 C731.0,1459.2 735.6,1460.5 741.7,1461.9 C747.8,1463.3 754.2,1466.4 756.7,1467.2"/>
<path d="M795.0,1452.2 C802.2,1452.0 823.6,1450.6 837.9,1451.2 C852.2,1451.7 868.3,1453.7 880.9,1455.4 C893.4,1457.2 902.3,1460.3 913.1,1461.9 C923.8,1463.5 936.4,1464.4 945.2,1465.1 C954.1,1465.8 962.6,1466.0 966.1,1466.2"/>
<path d="M966.1,1399.2 L966.1,1468.3"/>
<path d="M966.7,1399.6 L1013.9,1399.6"/>
<path d="M966.7,1402.2 L1013.9,1402.2"/>
<path d="M966.7,1421.1 C970.3,1420.7 980.3,1419.7 988.2,1419.0 C996.0,1418.2 1009.6,1417.2 1013.9,1416.8"/>
<path d="M966.7,1429.7 C970.3,1429.7 980.3,1429.7 988.2,1429.7 C996.0,1429.7 1009.6,1429.7 1013.9,1429.7"/>
<path d="M966.7,1421.1 C970.3,1422.2 980.3,1425.2 988.2,1427.5 C996.0,1429.9 1009.6,1433.8 1013.9,1435.1"/>
<path d="M966.7,1447.3 L1013.9,1448.1"/>
<path d="M966.7,1453.7 L1013.9,1454.6"/>
<path d="M463.8,1192.5 C465.9,1194.7 472.3,1201.6 476.6,1205.4 C480.9,1209.2 484.9,1212.6 489.5,1215.5 C494.2,1218.3 502.0,1221.4 504.5,1222.6"/>
<path d="M921.6,1186.1 C923.8,1188.8 930.2,1197.6 934.5,1202.2 C938.8,1206.7 943.3,1210.2 947.4,1213.3 C951.5,1216.5 956.1,1219.3 959.2,1221.1 C962.3,1222.8 964.9,1223.2 966.1,1223.6"/>
</g>
<g clip-path="url(#c3)">
<line x1="689.1" y1="1400.7" x2="689.1" y2="1361.4" stroke="#008000" stroke-width="5.1" stroke-dasharray="19,8.2"/>
<circle cx="689.1" cy="1361.4" r="11.6" fill="#008000"/>
<circle cx="689.1" cy="1400.7" r="11.6" fill="#008000"/>
<line x1="271.7" y1="1399.6" x2="905.5" y2="1364.2" stroke="#000" stroke-width="5.1" stroke-dasharray="19,8.2" stroke-dashoffset="0.0"/>
<path d="M261.4,1389.3 L282.0,1409.9 M261.4,1409.9 L282.0,1389.3" stroke="#000" stroke-width="3.4"/>
<path d="M895.2,1353.9 L915.8,1374.5 M895.2,1374.5 L915.8,1353.9" stroke="#000" stroke-width="3.4"/>
</g>
<rect x="135.6" y="1187.7" width="879.0" height="280.4" fill="none" stroke="#000" stroke-width="2.75"/>
<line x1="123.6" y1="1187.7" x2="135.6" y2="1187.7" stroke="#000" stroke-width="2.75"/>
<text x="111" y="1199.9" font-size="34.3" text-anchor="end" font-family="'DejaVu Sans','Liberation Sans',sans-serif">6</text>
<line x1="123.6" y1="1257.8" x2="135.6" y2="1257.8" stroke="#000" stroke-width="2.75"/>
<text x="111" y="1270.0" font-size="34.3" text-anchor="end" font-family="'DejaVu Sans','Liberation Sans',sans-serif">4</text>
<line x1="123.6" y1="1327.9" x2="135.6" y2="1327.9" stroke="#000" stroke-width="2.75"/>
<text x="111" y="1340.1" font-size="34.3" text-anchor="end" font-family="'DejaVu Sans','Liberation Sans',sans-serif">2</text>
<line x1="123.6" y1="1398.0" x2="135.6" y2="1398.0" stroke="#000" stroke-width="2.75"/>
<text x="111" y="1410.2" font-size="34.3" text-anchor="end" font-family="'DejaVu Sans','Liberation Sans',sans-serif">0</text>
<line x1="123.6" y1="1468.1" x2="135.6" y2="1468.1" stroke="#000" stroke-width="2.75"/>
<text x="111" y="1480.3" font-size="34.3" text-anchor="end" font-family="'DejaVu Sans','Liberation Sans',sans-serif">−2</text>
<line x1="135.6" y1="1468.1" x2="135.6" y2="1480.1" stroke="#000" stroke-width="2.75"/>
<line x1="272.9" y1="1468.1" x2="272.9" y2="1480.1" stroke="#000" stroke-width="2.75"/>
<line x1="361.0" y1="1468.1" x2="361.0" y2="1480.1" stroke="#000" stroke-width="2.75"/>
<line x1="508.1" y1="1468.1" x2="508.1" y2="1480.1" stroke="#000" stroke-width="2.75"/>
<line x1="578.8" y1="1468.1" x2="578.8" y2="1480.1" stroke="#000" stroke-width="2.75"/>
<line x1="740.6" y1="1468.1" x2="740.6" y2="1480.1" stroke="#000" stroke-width="2.75"/>
<line x1="814.0" y1="1468.1" x2="814.0" y2="1480.1" stroke="#000" stroke-width="2.75"/>
<line x1="839.3" y1="1468.1" x2="839.3" y2="1480.1" stroke="#000" stroke-width="2.75"/>
<line x1="966.3" y1="1468.1" x2="966.3" y2="1480.1" stroke="#000" stroke-width="2.75"/>
<line x1="1014.6" y1="1468.1" x2="1014.6" y2="1480.1" stroke="#000" stroke-width="2.75"/>
<text x="-3.0" y="1175.8" font-size="44.5" font-family="'DejaVu Sans','Liberation Sans',sans-serif">(d)</text>
<text x="954.6" y="1175.6" font-size="41.4" text-anchor="start" font-family="'DejaVu Sans','Liberation Sans',sans-serif">1</text><text x="981.8" y="1175.6" font-size="41.4" text-anchor="start" font-family="'DejaVu Sans','Liberation Sans',sans-serif">/</text><text x="999.4" y="1175.6" font-size="41.4" text-anchor="start" font-family="'DejaVu Sans','Liberation Sans',sans-serif">2</text>
<line x1="153" y1="1158.0" x2="187.4" y2="1158.0" stroke="#008000" stroke-width="5.1"/>
<circle cx="170.2" cy="1158.0" r="11.6" fill="#008000"/>
<text y="1168.8" font-size="34.3" font-family="'DejaVu Sans','Liberation Sans',sans-serif"><tspan x="190.5" font-style="italic">E</tspan></text>
<text x="214.5" y="1155.4" font-size="24" font-style="italic" font-family="'DejaVu Sans','Liberation Sans',sans-serif">dir</text>
<text x="212.5" y="1176.3" font-size="24" font-style="italic" font-family="'DejaVu Sans','Liberation Sans',sans-serif">g</text>
<text x="255.5" y="1168.8" font-size="34.3" font-family="'DejaVu Sans','Liberation Sans',sans-serif">=</text>
<text x="291" y="1168.8" font-size="34.3" font-family="'DejaVu Sans','Liberation Sans',sans-serif">1.13 eV</text>
<line x1="493" y1="1158.4" x2="528" y2="1158.4" stroke="#000" stroke-width="5.1" stroke-dasharray="15.3,12.5"/>
<path d="M500.5,1148.1 L521.1,1168.7 M500.5,1168.7 L521.1,1148.1" stroke="#000" stroke-width="3.4"/>
<text x="531.5" y="1168.8" font-size="34.3" font-style="italic" font-family="'DejaVu Sans','Liberation Sans',sans-serif">E</text>
<text x="553.5" y="1176.3" font-size="24" font-style="italic" font-family="'DejaVu Sans','Liberation Sans',sans-serif">g</text>
<text x="577" y="1168.8" font-size="34.3" font-family="'DejaVu Sans','Liberation Sans',sans-serif">=</text>
<text x="612" y="1168.8" font-size="34.3" font-family="'DejaVu Sans','Liberation Sans',sans-serif">1 eV</text>
<text transform="translate(37.8,1326.8) rotate(-90)" text-anchor="middle" font-size="34.3" font-family="'DejaVu Sans','Liberation Sans',sans-serif">(<tspan font-style="italic">ε</tspan><tspan font-size="24" font-style="italic" dy="7">n</tspan><tspan dy="-7" dx="7.4">−</tspan><tspan dx="7.4" font-style="italic">ε</tspan><tspan font-size="24" font-style="italic" dy="7">F</tspan><tspan dy="-7">) / eV</tspan></text>
<clipPath id="c4"><rect x="135.6" y="1569.3" width="879.0" height="280.4"/></clipPath>
<line x1="272.9" y1="1569.3" x2="272.9" y2="1849.7" stroke="#d3d3d3" stroke-width="5.1"/>
<line x1="361.0" y1="1569.3" x2="361.0" y2="1849.7" stroke="#d3d3d3" stroke-width="5.1"/>
<line x1="508.1" y1="1569.3" x2="508.1" y2="1849.7" stroke="#d3d3d3" stroke-width="5.1"/>
<line x1="578.8" y1="1569.3" x2="578.8" y2="1849.7" stroke="#d3d3d3" stroke-width="5.1"/>
<line x1="740.6" y1="1569.3" x2="740.6" y2="1849.7" stroke="#d3d3d3" stroke-width="5.1"/>
<line x1="814.0" y1="1569.3" x2="814.0" y2="1849.7" stroke="#d3d3d3" stroke-width="5.1"/>
<line x1="839.3" y1="1569.3" x2="839.3" y2="1849.7" stroke="#d3d3d3" stroke-width="5.1"/>
<line x1="966.3" y1="1569.3" x2="966.3" y2="1849.7" stroke="#d3d3d3" stroke-width="5.1"/>
<g clip-path="url(#c4)" fill="none" stroke="#ff0000" stroke-width="5.1" stroke-linejoin="round" stroke-linecap="round">
<path d="M137.5,1606.2 C139.1,1606.1 144.1,1606.2 147.2,1605.8 C150.2,1605.4 152.9,1605.8 155.8,1603.6 C158.6,1601.5 161.5,1596.8 164.3,1592.9 C167.2,1589.0 169.9,1584.7 172.9,1580.0 C176.0,1575.4 181.0,1567.5 182.6,1565.0"/>
<path d="M137.5,1605.8 C143.4,1606.0 159.9,1606.7 172.9,1606.9 C186.0,1607.0 203.3,1607.2 215.9,1606.9 C228.4,1606.5 238.8,1605.2 248.1,1604.7 C257.4,1604.2 262.7,1604.0 271.7,1603.6 C280.6,1603.3 293.1,1602.9 301.7,1602.6 C310.3,1602.2 315.1,1601.5 323.2,1601.5 C331.2,1601.5 340.2,1602.2 350.0,1602.6 C359.8,1602.9 371.5,1602.9 382.2,1603.6 C392.9,1604.4 403.7,1606.0 414.4,1606.9 C425.1,1607.7 435.9,1608.5 446.6,1609.0 C457.3,1609.5 468.6,1609.9 478.8,1610.1 C489.0,1610.3 498.8,1610.4 507.8,1610.1 C516.7,1609.7 524.8,1608.6 532.4,1607.9 C540.1,1607.2 547.6,1606.3 553.9,1605.8 C560.2,1605.2 563.7,1604.5 570.0,1604.7 C576.3,1604.9 582.5,1606.1 591.5,1606.9 C600.4,1607.6 614.7,1609.2 623.7,1609.0 C632.6,1608.8 638.0,1607.4 645.1,1605.8 C652.3,1604.2 658.4,1601.0 666.6,1599.3 C674.8,1597.7 685.5,1595.9 694.5,1596.1 C703.4,1596.3 712.6,1599.0 720.2,1600.4 C727.9,1601.8 733.5,1604.7 740.6,1604.7 C747.8,1604.7 754.9,1601.8 763.2,1600.4 C771.4,1599.0 781.5,1596.8 790.0,1596.1 C798.5,1595.4 806.3,1595.6 814.3,1596.1 C822.3,1596.7 828.6,1598.3 837.9,1599.3 C847.2,1600.4 859.4,1601.5 870.1,1602.6 C880.9,1603.6 891.6,1604.7 902.3,1605.8 C913.1,1606.9 923.9,1608.3 934.5,1609.0 C945.1,1609.7 960.8,1609.9 966.1,1610.1"/>
<path d="M137.5,1617.6 C139.8,1616.7 147.3,1613.5 151.5,1612.2 C155.6,1611.0 157.9,1609.7 162.2,1610.1 C166.5,1610.4 171.9,1613.3 177.2,1614.4 C182.6,1615.4 188.0,1616.7 194.4,1616.5 C200.8,1616.3 208.7,1614.7 215.9,1613.3 C223.0,1611.9 228.0,1609.4 237.3,1607.9 C246.6,1606.5 260.9,1604.7 271.7,1604.7 C282.4,1604.7 293.1,1607.4 301.7,1607.9 C310.3,1608.5 315.1,1608.1 323.2,1607.9 C331.2,1607.7 340.2,1607.4 350.0,1606.9 C359.8,1606.3 371.5,1604.0 382.2,1604.7 C392.9,1605.4 405.4,1609.0 414.4,1611.1 C423.3,1613.3 429.4,1616.2 435.9,1617.6 C442.3,1619.0 446.6,1619.9 453.0,1619.7 C459.5,1619.6 468.4,1617.8 474.5,1616.5 C480.6,1615.3 484.0,1613.3 489.5,1612.2 C495.1,1611.1 500.6,1610.6 507.8,1610.1 C514.9,1609.5 522.1,1609.5 532.4,1609.0 C542.8,1608.5 558.4,1607.0 570.0,1606.9 C581.6,1606.7 591.5,1607.2 602.2,1607.9 C612.9,1608.6 623.7,1609.9 634.4,1611.1 C645.1,1612.4 656.6,1614.7 666.6,1615.4 C676.6,1616.2 685.5,1616.3 694.5,1615.4 C703.4,1614.5 712.6,1611.9 720.2,1610.1 C727.9,1608.3 733.5,1605.4 740.6,1604.7 C747.8,1604.0 754.9,1606.3 763.2,1605.8 C771.4,1605.2 781.5,1602.9 790.0,1601.5 C798.5,1600.1 806.3,1597.4 814.3,1597.2 C822.3,1597.0 830.4,1598.6 837.9,1600.4 C845.4,1602.2 852.2,1605.4 859.4,1607.9 C866.5,1610.4 872.1,1613.5 880.9,1615.4 C889.6,1617.4 904.5,1619.0 912.0,1619.7 C919.5,1620.4 920.4,1620.4 925.9,1619.7 C931.5,1619.0 938.6,1617.0 945.2,1615.4 C951.9,1613.9 962.6,1611.3 966.1,1610.5"/>
<path d="M966.1,1610.5 C966.1,1609.5 962.4,1606.0 966.1,1604.7 C969.8,1603.4 980.2,1603.5 988.2,1602.6 C996.2,1601.7 1009.6,1599.9 1013.9,1599.3"/>
<path d="M530.3,1565.0 C530.7,1565.7 530.3,1565.7 532.4,1569.3 C534.6,1572.9 539.2,1580.7 543.2,1586.5 C547.1,1592.2 551.6,1599.0 556.1,1603.6 C560.5,1608.3 566.2,1612.2 570.0,1614.4 C573.8,1616.5 575.0,1617.0 578.6,1616.5 C582.2,1616.0 587.5,1614.0 591.5,1611.1 C595.4,1608.3 598.6,1603.8 602.2,1599.3 C605.8,1594.9 609.0,1590.0 612.9,1584.3 C616.9,1578.6 623.7,1568.2 625.8,1565.0"/>
<path d="M137.5,1790.4 C141.6,1790.2 152.7,1789.3 162.2,1789.3 C171.7,1789.3 185.4,1790.5 194.4,1790.4 C203.3,1790.2 208.7,1788.2 215.9,1788.2 C223.0,1788.2 228.0,1789.3 237.3,1790.4 C246.6,1791.4 260.9,1793.8 271.7,1794.7 C282.4,1795.6 288.7,1795.7 301.7,1795.7 C314.8,1795.8 336.6,1795.8 350.0,1795.1 C363.4,1794.4 371.5,1792.2 382.2,1791.4 C392.9,1790.7 403.7,1790.7 414.4,1790.4 C425.1,1790.0 435.9,1790.2 446.6,1789.3 C457.3,1788.4 468.6,1786.3 478.8,1785.0 C489.0,1783.8 502.9,1782.3 507.8,1781.8"/>
<path d="M137.5,1791.4 C143.4,1791.3 163.4,1790.2 172.9,1790.4 C182.4,1790.5 185.4,1791.1 194.4,1792.5 C203.3,1793.9 217.6,1797.5 226.6,1799.0 C235.5,1800.4 240.5,1801.3 248.1,1801.1 C255.6,1800.9 262.7,1798.6 271.7,1797.9 C280.6,1797.2 288.7,1797.1 301.7,1796.8 C314.8,1796.6 334.8,1796.7 350.0,1796.4 C365.2,1796.0 378.6,1795.3 392.9,1794.7 C407.2,1794.0 423.3,1793.6 435.9,1792.5 C448.4,1791.4 459.1,1789.7 468.1,1788.2 C477.0,1786.8 482.9,1784.9 489.5,1783.9 C496.1,1782.9 504.7,1782.5 507.8,1782.2"/>
<path d="M137.5,1801.1 C141.6,1801.1 152.7,1800.7 162.2,1801.1 C171.7,1801.5 185.4,1802.2 194.4,1803.2 C203.3,1804.3 208.7,1806.5 215.9,1807.5 C223.0,1808.6 228.0,1810.0 237.3,1809.7 C246.6,1809.3 260.9,1806.3 271.7,1805.4 C282.4,1804.5 288.7,1804.3 301.7,1804.3 C314.8,1804.4 336.6,1807.1 350.0,1805.8 C363.4,1804.6 371.5,1797.6 382.2,1796.8 C392.9,1796.0 405.4,1799.3 414.4,1801.1 C423.3,1802.9 428.7,1806.1 435.9,1807.5 C443.0,1809.0 450.2,1810.0 457.3,1809.7 C464.5,1809.3 470.4,1806.3 478.8,1805.4 C487.2,1804.5 497.0,1804.9 507.8,1804.3 C518.5,1803.8 532.8,1802.7 543.2,1802.2 C553.5,1801.6 560.2,1801.3 570.0,1801.1 C579.8,1800.9 591.5,1801.6 602.2,1801.1 C612.9,1800.6 623.7,1799.0 634.4,1797.9 C645.1,1796.8 655.9,1795.0 666.6,1794.7 C677.3,1794.3 686.4,1795.4 698.8,1795.7 C711.1,1796.1 729.9,1796.8 740.6,1796.8 C751.4,1796.8 754.9,1796.1 763.2,1795.7 C771.4,1795.4 781.5,1794.5 790.0,1794.7 C798.5,1794.8 806.3,1796.5 814.3,1796.8 C822.3,1797.2 828.6,1796.5 837.9,1796.8 C847.2,1797.2 859.4,1797.5 870.1,1799.0 C880.9,1800.4 891.6,1804.0 902.3,1805.4 C913.1,1806.8 923.9,1807.2 934.5,1807.5 C945.1,1807.9 960.8,1807.5 966.1,1807.5"/>
<path d="M350.0,1807.5 C357.2,1807.7 378.6,1808.4 392.9,1808.6 C407.2,1808.8 423.3,1808.6 435.9,1808.6 C448.4,1808.6 456.1,1808.6 468.1,1808.6 C480.0,1808.6 495.2,1808.1 507.8,1808.6 C520.3,1809.2 532.8,1809.9 543.2,1811.8 C553.5,1813.8 564.1,1818.5 570.0,1820.4 C575.9,1822.4 573.2,1824.4 578.6,1823.6 C584.0,1822.9 592.9,1819.2 602.2,1816.1 C611.5,1813.1 623.7,1808.3 634.4,1805.4 C645.1,1802.5 655.9,1800.4 666.6,1799.0 C677.3,1797.5 686.4,1796.5 698.8,1796.8 C711.1,1797.2 729.9,1799.3 740.6,1801.1 C751.4,1802.9 754.9,1805.2 763.2,1807.5 C771.4,1809.9 781.5,1813.8 790.0,1815.1 C798.5,1816.3 806.3,1815.6 814.3,1815.1 C822.3,1814.5 828.6,1812.7 837.9,1811.8 C847.2,1810.9 859.4,1810.2 870.1,1809.7 C880.9,1809.2 891.6,1809.2 902.3,1808.6 C913.1,1808.1 923.9,1807.0 934.5,1806.5 C945.1,1805.9 960.8,1805.6 966.1,1805.4"/>
<path d="M507.8,1782.2 C511.9,1783.2 524.8,1786.7 532.4,1788.2 C540.1,1789.8 547.6,1790.9 553.9,1791.4 C560.2,1792.0 567.3,1791.4 570.0,1791.4 C572.7,1791.4 564.6,1791.8 570.0,1791.4 C575.4,1791.1 591.5,1789.8 602.2,1789.3 C612.9,1788.8 623.7,1787.9 634.4,1788.2 C645.1,1788.6 655.9,1790.5 666.6,1791.4 C677.3,1792.3 686.4,1793.4 698.8,1793.6 C711.1,1793.8 729.9,1793.2 740.6,1792.5 C751.4,1791.8 754.9,1790.4 763.2,1789.3 C771.4,1788.2 781.5,1786.8 790.0,1786.1 C798.5,1785.4 806.3,1785.0 814.3,1785.0 C822.3,1785.0 828.6,1785.5 837.9,1786.1 C847.2,1786.6 859.4,1787.5 870.1,1788.2 C880.9,1788.9 893.0,1790.4 902.3,1790.4 C911.6,1790.4 918.8,1789.3 925.9,1788.2 C933.1,1787.2 938.6,1785.0 945.2,1783.9 C951.9,1782.9 962.6,1782.1 966.1,1781.8"/>
<path d="M570.0,1801.5 C577.2,1801.8 600.4,1802.2 612.9,1803.2 C625.4,1804.3 634.4,1806.5 645.1,1807.5 C655.9,1808.6 666.6,1809.7 677.3,1809.7 C688.1,1809.7 699.0,1808.4 709.5,1807.5 C720.1,1806.6 731.7,1805.2 740.6,1804.3 C749.6,1803.4 754.9,1802.7 763.2,1802.2 C771.4,1801.6 781.5,1803.4 790.0,1801.1 C798.5,1798.8 806.3,1790.6 814.3,1788.7 C822.3,1786.7 826.8,1788.8 837.9,1789.3 C849.0,1789.8 868.3,1790.9 880.9,1791.4 C893.4,1792.0 905.5,1792.5 913.1,1792.5 C920.6,1792.5 920.6,1792.5 925.9,1791.4 C931.3,1790.4 938.6,1787.6 945.2,1786.1 C951.9,1784.5 962.6,1782.9 966.1,1782.2"/>
<path d="M137.5,1824.7 C139.8,1823.3 145.6,1818.6 151.5,1816.1 C157.4,1813.6 165.8,1810.9 172.9,1809.7 C180.1,1808.4 187.2,1808.4 194.4,1808.6 C201.5,1808.8 208.7,1809.9 215.9,1810.8 C223.0,1811.7 228.0,1813.1 237.3,1814.0 C246.6,1814.9 260.9,1815.8 271.7,1816.1 C282.4,1816.5 288.7,1815.4 301.7,1816.1 C314.8,1816.8 336.6,1818.8 350.0,1820.4 C363.4,1822.0 371.5,1824.5 382.2,1825.8 C392.9,1827.0 403.7,1828.1 414.4,1827.9 C425.1,1827.8 437.6,1826.5 446.6,1824.7 C455.5,1822.9 460.9,1819.5 468.1,1817.2 C475.2,1814.9 482.9,1812.0 489.5,1810.8 C496.1,1809.5 500.6,1809.5 507.8,1809.7 C514.9,1809.9 524.8,1810.4 532.4,1811.8 C540.1,1813.3 547.6,1816.1 553.9,1818.3 C560.2,1820.4 567.3,1823.6 570.0,1824.7"/>
<path d="M137.5,1824.7 C141.6,1824.7 152.7,1825.1 162.2,1824.7 C171.7,1824.4 185.4,1823.5 194.4,1822.6 C203.3,1821.7 208.7,1821.1 215.9,1819.3 C223.0,1817.6 228.0,1814.2 237.3,1811.8 C246.6,1809.5 265.9,1806.5 271.7,1805.4"/>
<path d="M137.5,1825.8 C139.8,1827.0 145.6,1831.5 151.5,1833.3 C157.4,1835.1 165.8,1835.6 172.9,1836.5 C180.1,1837.4 187.2,1838.8 194.4,1838.7 C201.5,1838.5 208.7,1836.3 215.9,1835.4 C223.0,1834.5 228.0,1833.7 237.3,1833.3 C246.6,1832.9 260.9,1833.5 271.7,1833.3 C282.4,1833.1 288.7,1831.7 301.7,1832.2 C314.8,1832.8 336.6,1835.4 350.0,1836.5 C363.4,1837.6 371.5,1839.2 382.2,1838.7 C392.9,1838.1 403.7,1835.3 414.4,1833.3 C425.1,1831.3 437.6,1828.1 446.6,1826.9 C455.5,1825.6 460.9,1825.1 468.1,1825.8 C475.2,1826.5 482.9,1829.4 489.5,1831.2 C496.1,1832.9 500.6,1835.6 507.8,1836.5 C514.9,1837.4 524.8,1837.4 532.4,1836.5 C540.1,1835.6 547.6,1832.9 553.9,1831.2 C560.2,1829.4 565.9,1825.8 570.0,1825.8 C574.1,1825.8 573.2,1830.6 578.6,1831.2 C584.0,1831.7 592.9,1829.7 602.2,1829.0 C611.5,1828.3 623.7,1827.4 634.4,1826.9 C645.1,1826.3 655.9,1826.1 666.6,1825.8 C677.3,1825.4 686.4,1824.9 698.8,1824.7 C711.1,1824.5 729.9,1825.1 740.6,1824.7 C751.4,1824.4 754.9,1822.9 763.2,1822.6 C771.4,1822.2 781.5,1822.2 790.0,1822.6 C798.5,1822.9 806.3,1824.4 814.3,1824.7 C822.3,1825.1 828.6,1825.4 837.9,1824.7 C847.2,1824.0 861.2,1822.2 870.1,1820.4 C879.1,1818.6 884.4,1815.6 891.6,1814.0 C898.7,1812.4 904.1,1811.5 913.1,1810.8 C922.0,1810.0 936.4,1810.0 945.2,1809.7 C954.1,1809.3 962.6,1808.8 966.1,1808.6"/>
<path d="M137.5,1826.9 C141.6,1827.6 154.5,1830.4 162.2,1831.2 C169.9,1831.9 176.5,1830.3 183.7,1831.2 C190.8,1832.0 198.0,1834.7 205.1,1836.5 C212.3,1838.3 219.1,1839.6 226.6,1841.9 C234.1,1844.2 246.3,1849.0 250.2,1850.5"/>
<path d="M137.5,1827.9 C139.1,1829.5 143.1,1833.7 147.2,1837.6 C151.3,1841.5 159.7,1849.2 162.2,1851.5"/>
<path d="M301.7,1850.5 C305.3,1849.4 315.1,1845.7 323.2,1844.0 C331.2,1842.3 340.2,1840.7 350.0,1840.2 C359.8,1839.6 371.5,1840.2 382.2,1840.8 C392.9,1841.5 404.7,1842.4 414.4,1844.0 C424.1,1845.6 435.9,1849.4 440.1,1850.5"/>
<path d="M431.6,1851.5 C435.9,1850.6 448.7,1846.5 457.3,1846.2 C465.9,1845.8 478.8,1848.9 483.1,1849.4"/>
<path d="M538.9,1851.5 C543.2,1849.6 559.5,1842.3 564.6,1839.7 C569.8,1837.1 569.1,1838.4 570.0,1835.9 C570.9,1833.4 566.4,1826.2 570.0,1824.7 C573.6,1823.2 580.7,1824.9 591.5,1826.9 C602.2,1828.8 620.1,1834.4 634.4,1836.5 C648.7,1838.7 663.0,1839.6 677.3,1839.7 C691.6,1839.9 709.7,1838.3 720.2,1837.6 C730.8,1836.9 733.5,1835.1 740.6,1835.4 C747.8,1835.8 754.9,1838.3 763.2,1839.7 C771.4,1841.2 781.1,1843.3 790.0,1844.0 C798.9,1844.7 808.5,1844.6 816.5,1844.0 C824.5,1843.5 830.8,1840.8 837.9,1840.8 C845.1,1840.8 852.2,1843.1 859.4,1844.0 C866.5,1844.9 873.7,1846.2 880.9,1846.2 C888.0,1846.2 895.2,1843.7 902.3,1844.0 C909.5,1844.4 920.2,1847.6 923.8,1848.3"/>
<path d="M578.6,1825.8 C580.7,1827.4 586.8,1831.2 591.5,1835.4 C596.1,1839.7 604.0,1848.9 606.5,1851.5"/>
<path d="M570.0,1840.2 C575.4,1839.0 591.5,1834.1 602.2,1833.3 C612.9,1832.5 621.9,1833.7 634.4,1835.4 C646.9,1837.2 664.8,1842.4 677.3,1844.0 C689.8,1845.6 699.0,1845.5 709.5,1845.1 C720.1,1844.7 731.7,1842.1 740.6,1841.9 C749.6,1841.7 754.9,1843.2 763.2,1844.0 C771.4,1844.8 785.5,1846.2 790.0,1846.6"/>
<path d="M870.1,1841.9 C875.5,1840.8 893.4,1837.9 902.3,1835.4 C911.3,1832.9 916.6,1827.8 923.8,1826.9 C930.9,1826.0 938.2,1828.3 945.2,1830.1 C952.3,1831.9 962.6,1836.3 966.1,1837.6"/>
<path d="M966.1,1781.4 L966.1,1851.5"/>
<path d="M966.7,1794.7 C970.3,1794.3 980.3,1793.6 988.2,1792.5 C996.0,1791.4 1009.6,1788.9 1013.9,1788.2"/>
<path d="M966.7,1796.8 C970.3,1797.2 980.3,1799.4 988.2,1799.4 C996.0,1799.4 1009.6,1797.2 1013.9,1796.8"/>
<path d="M966.7,1803.2 C970.3,1803.6 980.3,1803.6 988.2,1805.4 C996.0,1807.2 1009.6,1812.5 1013.9,1814.0"/>
<path d="M966.7,1816.1 C970.3,1817.2 980.3,1821.0 988.2,1822.6 C996.0,1824.2 1009.6,1825.2 1013.9,1825.8"/>
<path d="M966.7,1833.3 C970.3,1833.3 980.3,1831.9 988.2,1833.3 C996.0,1834.7 1009.6,1840.5 1013.9,1841.9"/>
</g>
<g clip-path="url(#c4)">
<line x1="925.9" y1="1787.2" x2="925.9" y2="1619.7" stroke="#008000" stroke-width="5.1" stroke-dasharray="19,8.2"/>
<circle cx="925.9" cy="1619.7" r="11.6" fill="#008000"/>
<circle cx="925.9" cy="1787.2" r="11.6" fill="#008000"/>
<line x1="507.8" y1="1781.8" x2="912.0" y2="1618.7" stroke="#000" stroke-width="5.1" stroke-dasharray="19,8.2" stroke-dashoffset="0.0"/>
<path d="M497.5,1771.5 L518.1,1792.1 M497.5,1792.1 L518.1,1771.5" stroke="#000" stroke-width="3.4"/>
<path d="M901.7,1608.4 L922.3,1629.0 M901.7,1629.0 L922.3,1608.4" stroke="#000" stroke-width="3.4"/>
</g>
<rect x="135.6" y="1569.3" width="879.0" height="280.4" fill="none" stroke="#000" stroke-width="2.75"/>
<line x1="123.6" y1="1569.3" x2="135.6" y2="1569.3" stroke="#000" stroke-width="2.75"/>
<text x="111" y="1581.5" font-size="34.3" text-anchor="end" font-family="'DejaVu Sans','Liberation Sans',sans-serif">6</text>
<line x1="123.6" y1="1639.4" x2="135.6" y2="1639.4" stroke="#000" stroke-width="2.75"/>
<text x="111" y="1651.6" font-size="34.3" text-anchor="end" font-family="'DejaVu Sans','Liberation Sans',sans-serif">4</text>
<line x1="123.6" y1="1709.5" x2="135.6" y2="1709.5" stroke="#000" stroke-width="2.75"/>
<text x="111" y="1721.7" font-size="34.3" text-anchor="end" font-family="'DejaVu Sans','Liberation Sans',sans-serif">2</text>
<line x1="123.6" y1="1779.6" x2="135.6" y2="1779.6" stroke="#000" stroke-width="2.75"/>
<text x="111" y="1791.8" font-size="34.3" text-anchor="end" font-family="'DejaVu Sans','Liberation Sans',sans-serif">0</text>
<line x1="123.6" y1="1849.7" x2="135.6" y2="1849.7" stroke="#000" stroke-width="2.75"/>
<text x="111" y="1861.9" font-size="34.3" text-anchor="end" font-family="'DejaVu Sans','Liberation Sans',sans-serif">−2</text>
<line x1="135.6" y1="1849.7" x2="135.6" y2="1861.7" stroke="#000" stroke-width="2.75"/>
<line x1="272.9" y1="1849.7" x2="272.9" y2="1861.7" stroke="#000" stroke-width="2.75"/>
<line x1="361.0" y1="1849.7" x2="361.0" y2="1861.7" stroke="#000" stroke-width="2.75"/>
<line x1="508.1" y1="1849.7" x2="508.1" y2="1861.7" stroke="#000" stroke-width="2.75"/>
<line x1="578.8" y1="1849.7" x2="578.8" y2="1861.7" stroke="#000" stroke-width="2.75"/>
<line x1="740.6" y1="1849.7" x2="740.6" y2="1861.7" stroke="#000" stroke-width="2.75"/>
<line x1="814.0" y1="1849.7" x2="814.0" y2="1861.7" stroke="#000" stroke-width="2.75"/>
<line x1="839.3" y1="1849.7" x2="839.3" y2="1861.7" stroke="#000" stroke-width="2.75"/>
<line x1="966.3" y1="1849.7" x2="966.3" y2="1861.7" stroke="#000" stroke-width="2.75"/>
<line x1="1014.6" y1="1849.7" x2="1014.6" y2="1861.7" stroke="#000" stroke-width="2.75"/>
<text x="-3.0" y="1557.2" font-size="44.5" font-family="'DejaVu Sans','Liberation Sans',sans-serif">(e)</text>
<text x="778.7" y="1557.2" font-size="41.4" text-anchor="start" font-family="'DejaVu Sans','Liberation Sans',sans-serif">1</text><text x="806.1" y="1557.2" font-size="41.4" text-anchor="start" font-family="'DejaVu Sans','Liberation Sans',sans-serif">/</text><text x="823.4" y="1557.2" font-size="41.4" text-anchor="start" font-family="'DejaVu Sans','Liberation Sans',sans-serif">2</text><text x="849.8" y="1557.2" font-size="41.4" text-anchor="start" font-family="'DejaVu Sans','Liberation Sans',sans-serif">,</text><text x="864.6" y="1557.2" font-size="41.4" text-anchor="start" font-family="'DejaVu Sans','Liberation Sans',sans-serif">U=5 eV</text>
<line x1="153" y1="1539.6" x2="187.4" y2="1539.6" stroke="#008000" stroke-width="5.1"/>
<circle cx="170.2" cy="1539.6" r="11.6" fill="#008000"/>
<text y="1550.4" font-size="34.3" font-family="'DejaVu Sans','Liberation Sans',sans-serif"><tspan x="190.5" font-style="italic">E</tspan></text>
<text x="214.5" y="1537.0" font-size="24" font-style="italic" font-family="'DejaVu Sans','Liberation Sans',sans-serif">dir</text>
<text x="212.5" y="1557.9" font-size="24" font-style="italic" font-family="'DejaVu Sans','Liberation Sans',sans-serif">g</text>
<text x="255.5" y="1550.4" font-size="34.3" font-family="'DejaVu Sans','Liberation Sans',sans-serif">=</text>
<text x="291" y="1550.4" font-size="34.3" font-family="'DejaVu Sans','Liberation Sans',sans-serif">4.77 eV</text>
<line x1="493" y1="1540.0" x2="528" y2="1540.0" stroke="#000" stroke-width="5.1" stroke-dasharray="15.3,12.5"/>
<path d="M500.5,1529.7 L521.1,1550.3 M500.5,1550.3 L521.1,1529.7" stroke="#000" stroke-width="3.4"/>
<text x="531.5" y="1550.4" font-size="34.3" font-style="italic" font-family="'DejaVu Sans','Liberation Sans',sans-serif">E</text>
<text x="553.5" y="1557.9" font-size="24" font-style="italic" font-family="'DejaVu Sans','Liberation Sans',sans-serif">g</text>
<text x="577" y="1550.4" font-size="34.3" font-family="'DejaVu Sans','Liberation Sans',sans-serif">=</text>
<text x="612" y="1550.4" font-size="34.3" font-family="'DejaVu Sans','Liberation Sans',sans-serif">4.6 eV</text>
<text transform="translate(37.8,1708.4) rotate(-90)" text-anchor="middle" font-size="34.3" font-family="'DejaVu Sans','Liberation Sans',sans-serif">(<tspan font-style="italic">ε</tspan><tspan font-size="24" font-style="italic" dy="7">n</tspan><tspan dy="-7" dx="7.4">−</tspan><tspan dx="7.4" font-style="italic">ε</tspan><tspan font-size="24" font-style="italic" dy="7">F</tspan><tspan dy="-7">) / eV</tspan></text>
<text x="135.6" y="1898.5" font-size="34.3" text-anchor="middle" font-family="'DejaVu Sans','Liberation Sans',sans-serif">Γ</text>
<text x="272.9" y="1898.5" font-size="34.3" text-anchor="middle" font-family="'DejaVu Sans','Liberation Sans',sans-serif">L</text>
<text x="361.0" y="1898.5" font-size="34.3" text-anchor="middle" font-family="'DejaVu Sans','Liberation Sans',sans-serif">B1/</text>
<text x="361.0" y="1939.7" font-size="34.3" text-anchor="middle" font-family="'DejaVu Sans','Liberation Sans',sans-serif">B</text>
<text x="508.1" y="1898.5" font-size="34.3" text-anchor="middle" font-family="'DejaVu Sans','Liberation Sans',sans-serif">Z</text>
<text x="578.8" y="1898.5" font-size="34.3" text-anchor="middle" font-family="'DejaVu Sans','Liberation Sans',sans-serif">Γ</text>
<text x="740.6" y="1898.5" font-size="34.3" text-anchor="middle" font-family="'DejaVu Sans','Liberation Sans',sans-serif">X/</text>
<text x="740.6" y="1939.7" font-size="34.3" text-anchor="middle" font-family="'DejaVu Sans','Liberation Sans',sans-serif">Q</text>
<text x="814.0" y="1898.5" font-size="34.3" text-anchor="middle" font-family="'DejaVu Sans','Liberation Sans',sans-serif">F</text>
<text x="839.3" y="1898.5" font-size="34.3" text-anchor="middle" font-family="'DejaVu Sans','Liberation Sans',sans-serif">P1</text>
<text x="966.3" y="1898.5" font-size="34.3" text-anchor="middle" font-family="'DejaVu Sans','Liberation Sans',sans-serif">Z/</text>
<text x="966.3" y="1939.7" font-size="34.3" text-anchor="middle" font-family="'DejaVu Sans','Liberation Sans',sans-serif">L</text>
<text x="1014.6" y="1898.5" font-size="34.3" text-anchor="middle" font-family="'DejaVu Sans','Liberation Sans',sans-serif">P</text>
<text x="575.1" y="1983.2" font-size="34.3" text-anchor="middle" font-family="'DejaVu Sans','Liberation Sans',sans-serif">|k|</text>
</svg>
</body></html>
